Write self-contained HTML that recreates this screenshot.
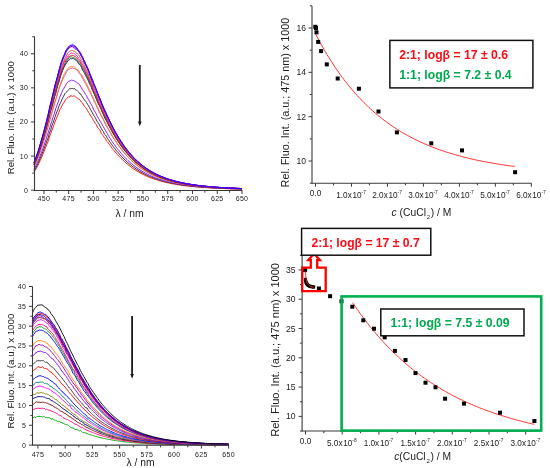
<!DOCTYPE html>
<html><head><meta charset="utf-8"><title>Fluorescence titration</title>
<style>
html,body{margin:0;padding:0;background:#fff;}
body{width:550px;height:468px;overflow:hidden;}
svg{display:block;}
svg text{font-family:"Liberation Sans",Arial,sans-serif;fill:#1c1c1c;}
</style></head>
<body>
<svg width="550" height="468" viewBox="0 0 550 468">
<rect width="550" height="468" fill="#fff"/>
<g>
<polyline points="34.0,172.1 35.0,170.5 36.0,168.8 37.0,167.0 38.0,165.1 39.0,163.1 39.9,161.0 40.9,158.9 41.9,156.6 42.9,154.3 43.9,151.8 44.9,149.4 45.9,146.8 46.9,144.2 47.9,141.9 48.9,139.0 49.8,136.0 50.8,133.5 51.8,130.4 52.8,128.1 53.8,125.3 54.8,122.2 55.8,119.9 56.8,117.6 57.8,115.1 58.8,112.5 59.8,109.8 60.7,108.3 61.7,106.3 62.7,104.1 63.7,102.9 64.7,101.2 65.7,99.5 66.7,98.4 67.7,97.6 68.7,96.6 69.7,97.1 70.6,95.6 71.6,96.0 72.6,96.3 73.6,95.9 74.6,96.1 75.6,97.0 76.6,97.8 77.6,98.2 78.6,99.1 79.6,99.6 80.6,100.9 81.5,102.2 82.5,103.1 83.5,104.8 84.5,106.4 85.5,107.4 86.5,108.8 87.5,110.6 88.5,112.3 89.5,113.5 90.5,116.0 91.4,116.6 92.4,118.3 93.4,120.5 94.4,121.7 95.4,123.6 96.4,124.7 97.4,127.2 98.4,128.4 99.4,129.5 100.4,131.0 101.4,133.5 102.3,134.6 103.3,135.8 104.3,137.6 105.3,138.4 106.3,140.7 107.3,141.6 108.3,143.1 109.3,144.5 110.3,145.8 111.3,147.1 112.2,148.4 113.2,149.6 114.2,150.8 115.2,152.0 116.2,153.2 117.2,154.3 118.2,155.4 119.2,156.4 120.2,157.5 121.2,158.5 122.2,159.4 123.1,160.4 124.1,161.3 125.1,162.2 126.1,163.1 127.1,163.9 128.1,164.7 129.1,165.5 130.1,166.3 131.1,167.0 132.1,167.8 133.1,168.5 134.0,169.1 135.0,169.8 136.0,170.4 137.0,171.0 138.0,171.6 139.0,172.2 140.0,172.8 141.0,173.3 142.0,173.8 143.0,174.3 143.9,174.8 144.9,175.3 145.9,175.8 146.9,176.2 147.9,176.6 148.9,177.1 149.9,177.5 150.9,177.8 151.9,178.2 152.9,178.6 153.9,178.9 154.8,179.3 155.8,179.6 156.8,179.9 157.8,180.2 158.8,180.5 159.8,180.8 160.8,181.1 161.8,181.4 162.8,181.6 163.8,181.9 164.7,182.1 165.7,182.4 166.7,182.6 167.7,182.8 168.7,183.0 169.7,183.2 170.7,183.4 171.7,183.6 172.7,183.8 173.7,184.0 174.7,184.2 175.6,184.3 176.6,184.5 177.6,184.7 178.6,184.8 179.6,185.0 180.6,185.1 181.6,185.3 182.6,185.4 183.6,185.5 184.6,185.7 185.5,185.8 186.5,185.9 187.5,186.0 188.5,186.1 189.5,186.2 190.5,186.3 191.5,186.4 192.5,186.5 193.5,186.6 194.5,186.7 195.5,186.8 196.4,186.9 197.4,187.0 198.4,187.1 199.4,187.2 200.4,187.2 201.4,187.3 202.4,187.4 203.4,187.5 204.4,187.5 205.4,187.6 206.3,187.7 207.3,187.7 208.3,187.8 209.3,187.8 210.3,187.9 211.3,188.0 212.3,188.0 213.3,188.1 214.3,188.1 215.3,188.2 216.3,188.2 217.2,188.3 218.2,188.3 219.2,188.4 220.2,188.4 221.2,188.4 222.2,188.5 223.2,188.5 224.2,188.6 225.2,188.6 226.2,188.6 227.1,188.7 228.1,188.7 229.1,188.7 230.1,188.8 231.1,188.8 232.1,188.8 233.1,188.9 234.1,188.9 235.1,188.9 236.1,189.0 237.1,189.0 238.0,189.0 239.0,189.0 240.0,189.1 241.0,189.1 242.0,189.1" fill="none" stroke="#ff0000" stroke-width="0.9" stroke-linejoin="round"/>
<polyline points="34.0,170.8 35.0,169.0 36.0,167.2 37.0,165.3 38.0,163.2 39.0,161.1 39.9,158.8 40.9,156.5 41.9,154.1 42.9,151.5 43.9,148.9 44.9,146.3 45.9,143.5 46.9,140.7 47.9,138.5 48.9,134.9 49.8,132.1 50.8,129.5 51.8,126.0 52.8,123.4 53.8,120.9 54.8,117.6 55.8,114.8 56.8,111.9 57.8,109.7 58.8,106.6 59.8,104.1 60.7,102.4 61.7,100.1 62.7,97.9 63.7,96.2 64.7,93.8 65.7,92.8 66.7,91.9 67.7,90.8 68.7,89.7 69.7,88.4 70.6,88.8 71.6,88.5 72.6,88.5 73.6,88.8 74.6,88.5 75.6,89.9 76.6,90.2 77.6,91.2 78.6,92.0 79.6,93.6 80.6,93.8 81.5,95.6 82.5,96.9 83.5,98.6 84.5,100.0 85.5,101.1 86.5,102.5 87.5,104.2 88.5,105.7 89.5,107.6 90.5,109.5 91.4,111.0 92.4,112.8 93.4,114.8 94.4,116.3 95.4,117.8 96.4,119.9 97.4,121.8 98.4,123.2 99.4,124.6 100.4,126.9 101.4,128.6 102.3,130.2 103.3,131.4 104.3,134.0 105.3,134.9 106.3,136.2 107.3,138.3 108.3,139.6 109.3,141.0 110.3,142.4 111.3,143.8 112.2,145.2 113.2,146.5 114.2,147.8 115.2,149.1 116.2,150.4 117.2,151.6 118.2,152.7 119.2,153.9 120.2,155.0 121.2,156.1 122.2,157.1 123.1,158.1 124.1,159.1 125.1,160.1 126.1,161.0 127.1,161.9 128.1,162.8 129.1,163.7 130.1,164.5 131.1,165.3 132.1,166.1 133.1,166.8 134.0,167.5 135.0,168.2 136.0,168.9 137.0,169.6 138.0,170.2 139.0,170.9 140.0,171.5 141.0,172.0 142.0,172.6 143.0,173.1 143.9,173.7 144.9,174.2 145.9,174.7 146.9,175.2 147.9,175.6 148.9,176.1 149.9,176.5 150.9,176.9 151.9,177.3 152.9,177.7 153.9,178.1 154.8,178.4 155.8,178.8 156.8,179.1 157.8,179.5 158.8,179.8 159.8,180.1 160.8,180.4 161.8,180.7 162.8,181.0 163.8,181.3 164.7,181.5 165.7,181.8 166.7,182.0 167.7,182.3 168.7,182.5 169.7,182.7 170.7,182.9 171.7,183.1 172.7,183.3 173.7,183.5 174.7,183.7 175.6,183.9 176.6,184.1 177.6,184.3 178.6,184.4 179.6,184.6 180.6,184.7 181.6,184.9 182.6,185.0 183.6,185.2 184.6,185.3 185.5,185.4 186.5,185.6 187.5,185.7 188.5,185.8 189.5,185.9 190.5,186.1 191.5,186.2 192.5,186.3 193.5,186.4 194.5,186.5 195.5,186.6 196.4,186.7 197.4,186.8 198.4,186.8 199.4,186.9 200.4,187.0 201.4,187.1 202.4,187.2 203.4,187.3 204.4,187.3 205.4,187.4 206.3,187.5 207.3,187.5 208.3,187.6 209.3,187.7 210.3,187.7 211.3,187.8 212.3,187.9 213.3,187.9 214.3,188.0 215.3,188.0 216.3,188.1 217.2,188.1 218.2,188.2 219.2,188.2 220.2,188.3 221.2,188.3 222.2,188.4 223.2,188.4 224.2,188.4 225.2,188.5 226.2,188.5 227.1,188.6 228.1,188.6 229.1,188.6 230.1,188.7 231.1,188.7 232.1,188.7 233.1,188.8 234.1,188.8 235.1,188.8 236.1,188.9 237.1,188.9 238.0,188.9 239.0,188.9 240.0,189.0 241.0,189.0 242.0,189.0" fill="none" stroke="#202020" stroke-width="0.9" stroke-linejoin="round"/>
<polyline points="34.0,169.2 35.0,167.3 36.0,165.3 37.0,163.2 38.0,161.0 39.0,158.7 39.9,156.3 40.9,153.8 41.9,151.1 42.9,148.4 43.9,145.6 44.9,142.7 45.9,139.8 46.9,136.7 47.9,133.6 48.9,130.4 49.8,127.7 50.8,124.0 51.8,121.6 52.8,117.7 53.8,115.2 54.8,112.1 55.8,108.4 56.8,105.8 57.8,103.1 58.8,100.2 59.8,97.3 60.7,94.9 61.7,92.6 62.7,90.1 63.7,88.6 64.7,86.8 65.7,85.2 66.7,83.3 67.7,82.2 68.7,81.2 69.7,81.0 70.6,80.6 71.6,80.1 72.6,80.5 73.6,80.4 74.6,80.9 75.6,81.9 76.6,82.4 77.6,83.3 78.6,83.7 79.6,84.6 80.6,86.6 81.5,87.9 82.5,90.1 83.5,90.8 84.5,92.5 85.5,94.4 86.5,95.6 87.5,98.0 88.5,99.4 89.5,101.1 90.5,103.4 91.4,104.6 92.4,106.4 93.4,109.1 94.4,111.0 95.4,112.2 96.4,114.3 97.4,116.6 98.4,118.2 99.4,119.9 100.4,121.8 101.4,123.3 102.3,125.2 103.3,126.6 104.3,128.4 105.3,130.3 106.3,131.9 107.3,133.5 108.3,135.5 109.3,137.1 110.3,138.6 111.3,140.1 112.2,141.6 113.2,143.0 114.2,144.4 115.2,145.8 116.2,147.1 117.2,148.4 118.2,149.7 119.2,150.9 120.2,152.1 121.2,153.3 122.2,154.4 123.1,155.6 124.1,156.6 125.1,157.7 126.1,158.7 127.1,159.6 128.1,160.6 129.1,161.5 130.1,162.4 131.1,163.3 132.1,164.1 133.1,164.9 134.0,165.7 135.0,166.5 136.0,167.2 137.0,167.9 138.0,168.6 139.0,169.3 140.0,169.9 141.0,170.6 142.0,171.2 143.0,171.8 143.9,172.3 144.9,172.9 145.9,173.4 146.9,173.9 147.9,174.4 148.9,174.9 149.9,175.4 150.9,175.8 151.9,176.3 152.9,176.7 153.9,177.1 154.8,177.5 155.8,177.9 156.8,178.3 157.8,178.6 158.8,179.0 159.8,179.3 160.8,179.6 161.8,179.9 162.8,180.2 163.8,180.5 164.7,180.8 165.7,181.1 166.7,181.4 167.7,181.6 168.7,181.9 169.7,182.1 170.7,182.3 171.7,182.6 172.7,182.8 173.7,183.0 174.7,183.2 175.6,183.4 176.6,183.6 177.6,183.8 178.6,184.0 179.6,184.1 180.6,184.3 181.6,184.5 182.6,184.6 183.6,184.8 184.6,184.9 185.5,185.1 186.5,185.2 187.5,185.3 188.5,185.5 189.5,185.6 190.5,185.7 191.5,185.8 192.5,186.0 193.5,186.1 194.5,186.2 195.5,186.3 196.4,186.4 197.4,186.5 198.4,186.6 199.4,186.7 200.4,186.8 201.4,186.9 202.4,186.9 203.4,187.0 204.4,187.1 205.4,187.2 206.3,187.3 207.3,187.3 208.3,187.4 209.3,187.5 210.3,187.5 211.3,187.6 212.3,187.7 213.3,187.7 214.3,187.8 215.3,187.8 216.3,187.9 217.2,188.0 218.2,188.0 219.2,188.1 220.2,188.1 221.2,188.2 222.2,188.2 223.2,188.3 224.2,188.3 225.2,188.3 226.2,188.4 227.1,188.4 228.1,188.5 229.1,188.5 230.1,188.5 231.1,188.6 232.1,188.6 233.1,188.7 234.1,188.7 235.1,188.7 236.1,188.8 237.1,188.8 238.0,188.8 239.0,188.8 240.0,188.9 241.0,188.9 242.0,188.9" fill="none" stroke="#8000ff" stroke-width="0.9" stroke-linejoin="round"/>
<polyline points="34.0,166.9 35.0,164.8 36.0,162.6 37.0,160.2 38.0,157.8 39.0,155.2 39.9,152.5 40.9,149.7 41.9,146.8 42.9,143.8 43.9,140.6 44.9,137.4 45.9,134.1 46.9,130.8 47.9,127.5 48.9,123.7 49.8,120.8 50.8,117.2 51.8,113.4 52.8,110.1 53.8,106.5 54.8,102.9 55.8,99.6 56.8,96.3 57.8,92.5 58.8,89.7 59.8,86.7 60.7,84.3 61.7,81.8 62.7,79.7 63.7,77.2 64.7,75.7 65.7,73.5 66.7,71.5 67.7,70.0 68.7,69.2 69.7,69.0 70.6,68.1 71.6,68.3 72.6,67.9 73.6,68.5 74.6,68.6 75.6,68.7 76.6,70.0 77.6,70.6 78.6,72.4 79.6,73.8 80.6,74.6 81.5,76.0 82.5,78.3 83.5,79.8 84.5,82.0 85.5,83.4 86.5,85.0 87.5,87.2 88.5,89.4 89.5,91.6 90.5,93.1 91.4,95.1 92.4,97.2 93.4,99.5 94.4,102.0 95.4,103.2 96.4,105.9 97.4,108.0 98.4,109.8 99.4,112.7 100.4,114.1 101.4,116.1 102.3,118.0 103.3,119.6 104.3,121.8 105.3,124.4 106.3,125.8 107.3,127.5 108.3,129.4 109.3,131.1 110.3,132.8 111.3,134.5 112.2,136.2 113.2,137.8 114.2,139.3 115.2,140.8 116.2,142.3 117.2,143.8 118.2,145.2 119.2,146.6 120.2,147.9 121.2,149.2 122.2,150.5 123.1,151.7 124.1,152.9 125.1,154.0 126.1,155.1 127.1,156.2 128.1,157.3 129.1,158.3 130.1,159.3 131.1,160.3 132.1,161.2 133.1,162.1 134.0,163.0 135.0,163.8 136.0,164.6 137.0,165.4 138.0,166.2 139.0,167.0 140.0,167.7 141.0,168.4 142.0,169.1 143.0,169.7 143.9,170.3 144.9,171.0 145.9,171.5 146.9,172.1 147.9,172.7 148.9,173.2 149.9,173.7 150.9,174.2 151.9,174.7 152.9,175.2 153.9,175.6 154.8,176.1 155.8,176.5 156.8,176.9 157.8,177.3 158.8,177.7 159.8,178.1 160.8,178.4 161.8,178.8 162.8,179.1 163.8,179.4 164.7,179.8 165.7,180.1 166.7,180.4 167.7,180.7 168.7,180.9 169.7,181.2 170.7,181.5 171.7,181.7 172.7,181.9 173.7,182.2 174.7,182.4 175.6,182.6 176.6,182.8 177.6,183.1 178.6,183.3 179.6,183.4 180.6,183.6 181.6,183.8 182.6,184.0 183.6,184.2 184.6,184.3 185.5,184.5 186.5,184.6 187.5,184.8 188.5,184.9 189.5,185.1 190.5,185.2 191.5,185.4 192.5,185.5 193.5,185.6 194.5,185.7 195.5,185.8 196.4,186.0 197.4,186.1 198.4,186.2 199.4,186.3 200.4,186.4 201.4,186.5 202.4,186.6 203.4,186.7 204.4,186.8 205.4,186.8 206.3,186.9 207.3,187.0 208.3,187.1 209.3,187.2 210.3,187.2 211.3,187.3 212.3,187.4 213.3,187.4 214.3,187.5 215.3,187.6 216.3,187.6 217.2,187.7 218.2,187.8 219.2,187.8 220.2,187.9 221.2,187.9 222.2,188.0 223.2,188.0 224.2,188.1 225.2,188.1 226.2,188.2 227.1,188.2 228.1,188.3 229.1,188.3 230.1,188.4 231.1,188.4 232.1,188.4 233.1,188.5 234.1,188.5 235.1,188.6 236.1,188.6 237.1,188.6 238.0,188.7 239.0,188.7 240.0,188.7 241.0,188.8 242.0,188.8" fill="none" stroke="#c040c0" stroke-width="0.9" stroke-linejoin="round"/>
<polyline points="34.0,166.5 35.0,164.4 36.0,162.2 37.0,159.8 38.0,157.3 39.0,154.7 39.9,152.0 40.9,149.1 41.9,146.2 42.9,143.1 43.9,139.9 44.9,136.7 45.9,133.3 46.9,129.9 47.9,126.6 48.9,122.9 49.8,119.3 50.8,116.1 51.8,112.2 52.8,108.8 53.8,104.7 54.8,101.5 55.8,98.7 56.8,95.6 57.8,91.7 58.8,88.2 59.8,85.6 60.7,82.5 61.7,80.3 62.7,78.1 63.7,75.2 64.7,73.4 65.7,71.5 66.7,70.5 67.7,68.8 68.7,68.0 69.7,66.8 70.6,66.8 71.6,66.6 72.6,66.6 73.6,66.3 74.6,67.2 75.6,68.1 76.6,69.0 77.6,70.0 78.6,70.3 79.6,72.6 80.6,73.7 81.5,74.7 82.5,76.2 83.5,78.3 84.5,79.8 85.5,81.6 86.5,83.5 87.5,85.7 88.5,87.3 89.5,89.8 90.5,91.4 91.4,94.3 92.4,95.8 93.4,98.6 94.4,100.9 95.4,102.4 96.4,104.9 97.4,106.6 98.4,109.2 99.4,110.5 100.4,113.0 101.4,115.4 102.3,117.0 103.3,118.8 104.3,121.3 105.3,122.8 106.3,124.2 107.3,126.4 108.3,128.5 109.3,130.3 110.3,132.0 111.3,133.7 112.2,135.4 113.2,137.0 114.2,138.6 115.2,140.2 116.2,141.7 117.2,143.1 118.2,144.6 119.2,145.9 120.2,147.3 121.2,148.6 122.2,149.9 123.1,151.1 124.1,152.3 125.1,153.5 126.1,154.7 127.1,155.8 128.1,156.8 129.1,157.9 130.1,158.9 131.1,159.8 132.1,160.8 133.1,161.7 134.0,162.6 135.0,163.5 136.0,164.3 137.0,165.1 138.0,165.9 139.0,166.6 140.0,167.4 141.0,168.1 142.0,168.8 143.0,169.4 143.9,170.1 144.9,170.7 145.9,171.3 146.9,171.9 147.9,172.4 148.9,173.0 149.9,173.5 150.9,174.0 151.9,174.5 152.9,175.0 153.9,175.4 154.8,175.9 155.8,176.3 156.8,176.7 157.8,177.1 158.8,177.5 159.8,177.9 160.8,178.3 161.8,178.6 162.8,179.0 163.8,179.3 164.7,179.6 165.7,179.9 166.7,180.2 167.7,180.5 168.7,180.8 169.7,181.1 170.7,181.3 171.7,181.6 172.7,181.8 173.7,182.1 174.7,182.3 175.6,182.5 176.6,182.7 177.6,183.0 178.6,183.2 179.6,183.4 180.6,183.5 181.6,183.7 182.6,183.9 183.6,184.1 184.6,184.2 185.5,184.4 186.5,184.6 187.5,184.7 188.5,184.9 189.5,185.0 190.5,185.1 191.5,185.3 192.5,185.4 193.5,185.5 194.5,185.7 195.5,185.8 196.4,185.9 197.4,186.0 198.4,186.1 199.4,186.2 200.4,186.3 201.4,186.4 202.4,186.5 203.4,186.6 204.4,186.7 205.4,186.8 206.3,186.9 207.3,187.0 208.3,187.0 209.3,187.1 210.3,187.2 211.3,187.3 212.3,187.3 213.3,187.4 214.3,187.5 215.3,187.5 216.3,187.6 217.2,187.7 218.2,187.7 219.2,187.8 220.2,187.8 221.2,187.9 222.2,188.0 223.2,188.0 224.2,188.1 225.2,188.1 226.2,188.2 227.1,188.2 228.1,188.2 229.1,188.3 230.1,188.3 231.1,188.4 232.1,188.4 233.1,188.5 234.1,188.5 235.1,188.5 236.1,188.6 237.1,188.6 238.0,188.6 239.0,188.7 240.0,188.7 241.0,188.7 242.0,188.8" fill="none" stroke="#ff8000" stroke-width="0.9" stroke-linejoin="round"/>
<polyline points="34.0,165.0 35.0,162.8 36.0,160.4 37.0,157.9 38.0,155.2 39.0,152.5 39.9,149.6 40.9,146.5 41.9,143.4 42.9,140.1 43.9,136.8 44.9,133.3 45.9,129.7 46.9,126.1 47.9,122.2 48.9,118.3 49.8,114.5 50.8,110.8 51.8,107.8 52.8,103.7 53.8,99.9 54.8,96.1 55.8,93.1 56.8,88.9 57.8,85.4 58.8,82.4 59.8,78.9 60.7,75.6 61.7,73.2 62.7,70.3 63.7,67.9 64.7,65.9 65.7,64.0 66.7,62.6 67.7,60.8 68.7,60.2 69.7,59.5 70.6,58.5 71.6,58.8 72.6,58.5 73.6,58.6 74.6,59.4 75.6,60.0 76.6,60.7 77.6,61.8 78.6,63.7 79.6,64.9 80.6,65.6 81.5,67.5 82.5,70.0 83.5,71.6 84.5,73.0 85.5,75.3 86.5,76.9 87.5,79.1 88.5,81.1 89.5,83.8 90.5,85.5 91.4,87.3 92.4,90.4 93.4,92.0 94.4,94.4 95.4,96.8 96.4,99.3 97.4,101.8 98.4,104.0 99.4,105.7 100.4,107.8 101.4,109.9 102.3,112.2 103.3,114.3 104.3,116.8 105.3,119.1 106.3,120.6 107.3,122.5 108.3,124.6 109.3,126.5 110.3,128.3 111.3,130.2 112.2,131.9 113.2,133.7 114.2,135.3 115.2,137.0 116.2,138.6 117.2,140.1 118.2,141.7 119.2,143.1 120.2,144.6 121.2,146.0 122.2,147.3 123.1,148.7 124.1,149.9 125.1,151.2 126.1,152.4 127.1,153.6 128.1,154.7 129.1,155.8 130.1,156.9 131.1,157.9 132.1,158.9 133.1,159.9 134.0,160.8 135.0,161.8 136.0,162.6 137.0,163.5 138.0,164.3 139.0,165.1 140.0,165.9 141.0,166.7 142.0,167.4 143.0,168.1 143.9,168.8 144.9,169.4 145.9,170.1 146.9,170.7 147.9,171.3 148.9,171.9 149.9,172.4 150.9,173.0 151.9,173.5 152.9,174.0 153.9,174.5 154.8,175.0 155.8,175.4 156.8,175.9 157.8,176.3 158.8,176.7 159.8,177.1 160.8,177.5 161.8,177.9 162.8,178.3 163.8,178.6 164.7,178.9 165.7,179.3 166.7,179.6 167.7,179.9 168.7,180.2 169.7,180.5 170.7,180.8 171.7,181.0 172.7,181.3 173.7,181.6 174.7,181.8 175.6,182.0 176.6,182.3 177.6,182.5 178.6,182.7 179.6,182.9 180.6,183.1 181.6,183.3 182.6,183.5 183.6,183.7 184.6,183.9 185.5,184.0 186.5,184.2 187.5,184.4 188.5,184.5 189.5,184.7 190.5,184.8 191.5,185.0 192.5,185.1 193.5,185.2 194.5,185.4 195.5,185.5 196.4,185.6 197.4,185.7 198.4,185.9 199.4,186.0 200.4,186.1 201.4,186.2 202.4,186.3 203.4,186.4 204.4,186.5 205.4,186.6 206.3,186.7 207.3,186.8 208.3,186.8 209.3,186.9 210.3,187.0 211.3,187.1 212.3,187.2 213.3,187.2 214.3,187.3 215.3,187.4 216.3,187.4 217.2,187.5 218.2,187.6 219.2,187.6 220.2,187.7 221.2,187.8 222.2,187.8 223.2,187.9 224.2,187.9 225.2,188.0 226.2,188.0 227.1,188.1 228.1,188.1 229.1,188.2 230.1,188.2 231.1,188.3 232.1,188.3 233.1,188.3 234.1,188.4 235.1,188.4 236.1,188.5 237.1,188.5 238.0,188.5 239.0,188.6 240.0,188.6 241.0,188.6 242.0,188.7" fill="none" stroke="#000080" stroke-width="0.9" stroke-linejoin="round"/>
<polyline points="34.0,164.8 35.0,162.5 36.0,160.1 37.0,157.6 38.0,154.9 39.0,152.1 39.9,149.1 40.9,146.1 41.9,142.9 42.9,139.6 43.9,136.2 44.9,132.7 45.9,129.1 46.9,125.4 47.9,121.7 48.9,117.7 49.8,113.9 50.8,109.7 51.8,106.0 52.8,103.1 53.8,98.5 54.8,95.4 55.8,91.8 56.8,87.6 57.8,84.6 58.8,81.1 59.8,77.5 60.7,75.0 61.7,72.2 62.7,69.2 63.7,66.5 64.7,64.6 65.7,63.3 66.7,61.4 67.7,59.8 68.7,58.1 69.7,57.6 70.6,57.1 71.6,56.8 72.6,57.3 73.6,57.4 74.6,57.9 75.6,59.0 76.6,59.6 77.6,60.5 78.6,62.2 79.6,63.0 80.6,64.5 81.5,66.0 82.5,68.3 83.5,69.9 84.5,71.4 85.5,73.6 86.5,76.1 87.5,77.9 88.5,79.7 89.5,82.4 90.5,84.5 91.4,86.1 92.4,89.1 93.4,91.4 94.4,94.0 95.4,96.2 96.4,97.8 97.4,100.6 98.4,103.2 99.4,105.3 100.4,107.3 101.4,109.2 102.3,111.9 103.3,113.6 104.3,116.0 105.3,117.8 106.3,119.8 107.3,121.8 108.3,123.9 109.3,125.8 110.3,127.7 111.3,129.5 112.2,131.3 113.2,133.1 114.2,134.8 115.2,136.4 116.2,138.0 117.2,139.6 118.2,141.2 119.2,142.7 120.2,144.1 121.2,145.5 122.2,146.9 123.1,148.2 124.1,149.5 125.1,150.8 126.1,152.0 127.1,153.2 128.1,154.3 129.1,155.5 130.1,156.5 131.1,157.6 132.1,158.6 133.1,159.6 134.0,160.5 135.0,161.5 136.0,162.4 137.0,163.2 138.0,164.1 139.0,164.9 140.0,165.7 141.0,166.4 142.0,167.2 143.0,167.9 143.9,168.6 144.9,169.2 145.9,169.9 146.9,170.5 147.9,171.1 148.9,171.7 149.9,172.3 150.9,172.8 151.9,173.3 152.9,173.8 153.9,174.3 154.8,174.8 155.8,175.3 156.8,175.7 157.8,176.2 158.8,176.6 159.8,177.0 160.8,177.4 161.8,177.8 162.8,178.1 163.8,178.5 164.7,178.8 165.7,179.2 166.7,179.5 167.7,179.8 168.7,180.1 169.7,180.4 170.7,180.7 171.7,180.9 172.7,181.2 173.7,181.5 174.7,181.7 175.6,182.0 176.6,182.2 177.6,182.4 178.6,182.6 179.6,182.8 180.6,183.0 181.6,183.2 182.6,183.4 183.6,183.6 184.6,183.8 185.5,184.0 186.5,184.1 187.5,184.3 188.5,184.5 189.5,184.6 190.5,184.8 191.5,184.9 192.5,185.1 193.5,185.2 194.5,185.3 195.5,185.5 196.4,185.6 197.4,185.7 198.4,185.8 199.4,185.9 200.4,186.0 201.4,186.1 202.4,186.2 203.4,186.3 204.4,186.4 205.4,186.5 206.3,186.6 207.3,186.7 208.3,186.8 209.3,186.9 210.3,187.0 211.3,187.1 212.3,187.1 213.3,187.2 214.3,187.3 215.3,187.3 216.3,187.4 217.2,187.5 218.2,187.5 219.2,187.6 220.2,187.7 221.2,187.7 222.2,187.8 223.2,187.8 224.2,187.9 225.2,188.0 226.2,188.0 227.1,188.1 228.1,188.1 229.1,188.2 230.1,188.2 231.1,188.2 232.1,188.3 233.1,188.3 234.1,188.4 235.1,188.4 236.1,188.5 237.1,188.5 238.0,188.5 239.0,188.6 240.0,188.6 241.0,188.6 242.0,188.7" fill="none" stroke="#008000" stroke-width="0.9" stroke-linejoin="round"/>
<polyline points="34.0,164.4 35.0,162.1 36.0,159.7 37.0,157.1 38.0,154.4 39.0,151.6 39.9,148.6 40.9,145.5 41.9,142.3 42.9,139.0 43.9,135.5 44.9,132.0 45.9,128.3 46.9,124.6 47.9,120.9 48.9,116.4 49.8,113.2 50.8,109.1 51.8,105.6 52.8,101.5 53.8,97.6 54.8,93.8 55.8,89.9 56.8,86.7 57.8,83.3 58.8,79.3 59.8,76.5 60.7,73.5 61.7,70.1 62.7,67.6 63.7,66.2 64.7,63.3 65.7,61.0 66.7,59.3 67.7,58.3 68.7,56.5 69.7,56.4 70.6,55.8 71.6,55.4 72.6,55.5 73.6,55.6 74.6,56.0 75.6,57.1 76.6,57.5 77.6,59.2 78.6,60.3 79.6,61.1 80.6,63.1 81.5,64.4 82.5,66.6 83.5,68.4 84.5,70.3 85.5,72.3 86.5,74.5 87.5,76.5 88.5,78.5 89.5,80.6 90.5,83.2 91.4,85.3 92.4,87.6 93.4,90.5 94.4,93.0 95.4,94.3 96.4,96.7 97.4,99.4 98.4,101.6 99.4,104.3 100.4,106.6 101.4,108.3 102.3,111.1 103.3,112.5 104.3,115.1 105.3,116.9 106.3,118.5 107.3,120.5 108.3,123.1 109.3,125.0 110.3,126.9 111.3,128.8 112.2,130.6 113.2,132.3 114.2,134.1 115.2,135.7 116.2,137.4 117.2,139.0 118.2,140.5 119.2,142.0 120.2,143.5 121.2,145.0 122.2,146.3 123.1,147.7 124.1,149.0 125.1,150.3 126.1,151.5 127.1,152.7 128.1,153.9 129.1,155.0 130.1,156.1 131.1,157.2 132.1,158.2 133.1,159.2 134.0,160.2 135.0,161.1 136.0,162.0 137.0,162.9 138.0,163.7 139.0,164.6 140.0,165.4 141.0,166.1 142.0,166.9 143.0,167.6 143.9,168.3 144.9,169.0 145.9,169.6 146.9,170.3 147.9,170.9 148.9,171.5 149.9,172.0 150.9,172.6 151.9,173.1 152.9,173.6 153.9,174.1 154.8,174.6 155.8,175.1 156.8,175.5 157.8,176.0 158.8,176.4 159.8,176.8 160.8,177.2 161.8,177.6 162.8,178.0 163.8,178.3 164.7,178.7 165.7,179.0 166.7,179.3 167.7,179.7 168.7,180.0 169.7,180.3 170.7,180.6 171.7,180.8 172.7,181.1 173.7,181.4 174.7,181.6 175.6,181.9 176.6,182.1 177.6,182.3 178.6,182.5 179.6,182.7 180.6,183.0 181.6,183.2 182.6,183.4 183.6,183.5 184.6,183.7 185.5,183.9 186.5,184.1 187.5,184.2 188.5,184.4 189.5,184.6 190.5,184.7 191.5,184.9 192.5,185.0 193.5,185.1 194.5,185.3 195.5,185.4 196.4,185.5 197.4,185.6 198.4,185.8 199.4,185.9 200.4,186.0 201.4,186.1 202.4,186.2 203.4,186.3 204.4,186.4 205.4,186.5 206.3,186.6 207.3,186.7 208.3,186.8 209.3,186.8 210.3,186.9 211.3,187.0 212.3,187.1 213.3,187.2 214.3,187.2 215.3,187.3 216.3,187.4 217.2,187.4 218.2,187.5 219.2,187.6 220.2,187.6 221.2,187.7 222.2,187.8 223.2,187.8 224.2,187.9 225.2,187.9 226.2,188.0 227.1,188.0 228.1,188.1 229.1,188.1 230.1,188.2 231.1,188.2 232.1,188.3 233.1,188.3 234.1,188.3 235.1,188.4 236.1,188.4 237.1,188.5 238.0,188.5 239.0,188.5 240.0,188.6 241.0,188.6 242.0,188.6" fill="none" stroke="#c00040" stroke-width="0.9" stroke-linejoin="round"/>
<polyline points="34.0,164.0 35.0,161.6 36.0,159.2 37.0,156.5 38.0,153.8 39.0,150.9 39.9,147.9 40.9,144.7 41.9,141.4 42.9,138.0 43.9,134.5 44.9,130.9 45.9,127.2 46.9,123.5 47.9,119.9 48.9,115.6 49.8,111.3 50.8,108.1 51.8,103.8 52.8,99.7 53.8,96.4 54.8,92.2 55.8,88.9 56.8,84.9 57.8,81.5 58.8,77.9 59.8,74.5 60.7,71.3 61.7,68.4 62.7,66.4 63.7,62.7 64.7,61.0 65.7,59.3 66.7,57.4 67.7,55.7 68.7,55.0 69.7,54.0 70.6,53.4 71.6,52.9 72.6,53.4 73.6,53.3 74.6,53.9 75.6,54.7 76.6,55.2 77.6,56.7 78.6,58.3 79.6,59.2 80.6,60.8 81.5,62.6 82.5,64.3 83.5,65.5 84.5,68.1 85.5,70.1 86.5,72.4 87.5,74.1 88.5,76.8 89.5,79.3 90.5,81.7 91.4,83.5 92.4,85.8 93.4,88.9 94.4,91.0 95.4,92.9 96.4,95.2 97.4,98.2 98.4,100.3 99.4,102.2 100.4,104.9 101.4,107.1 102.3,109.4 103.3,111.8 104.3,113.6 105.3,115.6 106.3,118.2 107.3,119.8 108.3,121.9 109.3,123.9 110.3,125.8 111.3,127.7 112.2,129.5 113.2,131.3 114.2,133.1 115.2,134.8 116.2,136.4 117.2,138.1 118.2,139.7 119.2,141.2 120.2,142.7 121.2,144.2 122.2,145.6 123.1,146.9 124.1,148.3 125.1,149.6 126.1,150.8 127.1,152.1 128.1,153.2 129.1,154.4 130.1,155.5 131.1,156.6 132.1,157.6 133.1,158.7 134.0,159.6 135.0,160.6 136.0,161.5 137.0,162.4 138.0,163.3 139.0,164.1 140.0,164.9 141.0,165.7 142.0,166.5 143.0,167.2 143.9,167.9 144.9,168.6 145.9,169.3 146.9,169.9 147.9,170.5 148.9,171.1 149.9,171.7 150.9,172.3 151.9,172.8 152.9,173.3 153.9,173.9 154.8,174.3 155.8,174.8 156.8,175.3 157.8,175.7 158.8,176.2 159.8,176.6 160.8,177.0 161.8,177.4 162.8,177.8 163.8,178.1 164.7,178.5 165.7,178.8 166.7,179.2 167.7,179.5 168.7,179.8 169.7,180.1 170.7,180.4 171.7,180.7 172.7,180.9 173.7,181.2 174.7,181.5 175.6,181.7 176.6,181.9 177.6,182.2 178.6,182.4 179.6,182.6 180.6,182.8 181.6,183.0 182.6,183.2 183.6,183.4 184.6,183.6 185.5,183.8 186.5,184.0 187.5,184.1 188.5,184.3 189.5,184.5 190.5,184.6 191.5,184.8 192.5,184.9 193.5,185.0 194.5,185.2 195.5,185.3 196.4,185.4 197.4,185.6 198.4,185.7 199.4,185.8 200.4,185.9 201.4,186.0 202.4,186.1 203.4,186.2 204.4,186.3 205.4,186.4 206.3,186.5 207.3,186.6 208.3,186.7 209.3,186.8 210.3,186.9 211.3,187.0 212.3,187.0 213.3,187.1 214.3,187.2 215.3,187.3 216.3,187.3 217.2,187.4 218.2,187.5 219.2,187.5 220.2,187.6 221.2,187.7 222.2,187.7 223.2,187.8 224.2,187.8 225.2,187.9 226.2,187.9 227.1,188.0 228.1,188.0 229.1,188.1 230.1,188.1 231.1,188.2 232.1,188.2 233.1,188.3 234.1,188.3 235.1,188.4 236.1,188.4 237.1,188.4 238.0,188.5 239.0,188.5 240.0,188.5 241.0,188.6 242.0,188.6" fill="none" stroke="#ff0080" stroke-width="0.9" stroke-linejoin="round"/>
<polyline points="34.0,163.5 35.0,161.1 36.0,158.5 37.0,155.9 38.0,153.1 39.0,150.1 39.9,147.0 40.9,143.8 41.9,140.5 42.9,137.0 43.9,133.4 44.9,129.8 45.9,126.0 46.9,122.1 47.9,118.5 48.9,114.6 49.8,110.2 50.8,106.6 51.8,102.7 52.8,98.4 53.8,94.5 54.8,90.0 55.8,86.8 56.8,82.1 57.8,79.2 58.8,75.4 59.8,71.9 60.7,68.8 61.7,65.7 62.7,63.5 63.7,61.3 64.7,58.4 65.7,56.9 66.7,54.8 67.7,52.9 68.7,52.0 69.7,51.3 70.6,50.9 71.6,50.5 72.6,50.5 73.6,51.2 74.6,51.2 75.6,52.3 76.6,52.9 77.6,54.2 78.6,55.0 79.6,56.5 80.6,58.3 81.5,60.1 82.5,61.7 83.5,63.3 84.5,65.4 85.5,67.8 86.5,69.9 87.5,71.8 88.5,75.0 89.5,76.7 90.5,79.5 91.4,81.2 92.4,84.1 93.4,86.4 94.4,89.1 95.4,91.2 96.4,93.4 97.4,95.5 98.4,98.7 99.4,100.9 100.4,101.8 101.4,105.1 102.3,107.6 103.3,109.7 104.3,112.9 105.3,113.8 106.3,116.3 107.3,118.9 108.3,120.5 109.3,122.5 110.3,124.5 111.3,126.4 112.2,128.3 113.2,130.1 114.2,131.9 115.2,133.7 116.2,135.4 117.2,137.0 118.2,138.6 119.2,140.2 120.2,141.7 121.2,143.2 122.2,144.7 123.1,146.1 124.1,147.4 125.1,148.8 126.1,150.1 127.1,151.3 128.1,152.5 129.1,153.7 130.1,154.8 131.1,155.9 132.1,157.0 133.1,158.0 134.0,159.0 135.0,160.0 136.0,160.9 137.0,161.8 138.0,162.7 139.0,163.6 140.0,164.4 141.0,165.2 142.0,166.0 143.0,166.7 143.9,167.5 144.9,168.2 145.9,168.8 146.9,169.5 147.9,170.1 148.9,170.7 149.9,171.3 150.9,171.9 151.9,172.5 152.9,173.0 153.9,173.5 154.8,174.0 155.8,174.5 156.8,175.0 157.8,175.4 158.8,175.9 159.8,176.3 160.8,176.7 161.8,177.1 162.8,177.5 163.8,177.9 164.7,178.2 165.7,178.6 166.7,178.9 167.7,179.3 168.7,179.6 169.7,179.9 170.7,180.2 171.7,180.5 172.7,180.8 173.7,181.0 174.7,181.3 175.6,181.5 176.6,181.8 177.6,182.0 178.6,182.2 179.6,182.5 180.6,182.7 181.6,182.9 182.6,183.1 183.6,183.3 184.6,183.5 185.5,183.7 186.5,183.8 187.5,184.0 188.5,184.2 189.5,184.3 190.5,184.5 191.5,184.6 192.5,184.8 193.5,184.9 194.5,185.1 195.5,185.2 196.4,185.3 197.4,185.5 198.4,185.6 199.4,185.7 200.4,185.8 201.4,185.9 202.4,186.0 203.4,186.2 204.4,186.3 205.4,186.4 206.3,186.4 207.3,186.5 208.3,186.6 209.3,186.7 210.3,186.8 211.3,186.9 212.3,187.0 213.3,187.0 214.3,187.1 215.3,187.2 216.3,187.3 217.2,187.3 218.2,187.4 219.2,187.5 220.2,187.5 221.2,187.6 222.2,187.7 223.2,187.7 224.2,187.8 225.2,187.8 226.2,187.9 227.1,187.9 228.1,188.0 229.1,188.0 230.1,188.1 231.1,188.1 232.1,188.2 233.1,188.2 234.1,188.3 235.1,188.3 236.1,188.4 237.1,188.4 238.0,188.4 239.0,188.5 240.0,188.5 241.0,188.6 242.0,188.6" fill="none" stroke="#a0522d" stroke-width="0.9" stroke-linejoin="round"/>
<polyline points="34.0,162.8 35.0,160.4 36.0,157.8 37.0,155.0 38.0,152.2 39.0,149.1 39.9,146.0 40.9,142.7 41.9,139.3 42.9,135.7 43.9,132.0 44.9,128.3 45.9,124.4 46.9,120.5 47.9,116.3 48.9,112.3 49.8,107.4 50.8,104.0 51.8,100.1 52.8,95.6 53.8,92.1 54.8,87.6 55.8,83.5 56.8,80.1 57.8,76.3 58.8,72.9 59.8,69.1 60.7,66.1 61.7,62.3 62.7,59.8 63.7,57.5 64.7,55.5 65.7,52.4 66.7,50.8 67.7,49.6 68.7,48.5 69.7,47.6 70.6,47.3 71.6,46.3 72.6,46.9 73.6,47.7 74.6,48.0 75.6,49.4 76.6,49.3 77.6,50.4 78.6,51.4 79.6,52.8 80.6,55.3 81.5,56.7 82.5,58.3 83.5,60.4 84.5,62.8 85.5,64.6 86.5,66.9 87.5,68.9 88.5,71.7 89.5,74.1 90.5,76.6 91.4,79.0 92.4,81.6 93.4,83.9 94.4,86.1 95.4,88.6 96.4,90.8 97.4,93.3 98.4,95.9 99.4,98.9 100.4,100.7 101.4,102.9 102.3,106.0 103.3,108.2 104.3,110.4 105.3,112.7 106.3,114.6 107.3,117.0 108.3,118.8 109.3,120.9 110.3,122.9 111.3,124.9 112.2,126.8 113.2,128.7 114.2,130.5 115.2,132.3 116.2,134.0 117.2,135.7 118.2,137.4 119.2,139.0 120.2,140.6 121.2,142.1 122.2,143.6 123.1,145.0 124.1,146.4 125.1,147.8 126.1,149.1 127.1,150.4 128.1,151.6 129.1,152.8 130.1,154.0 131.1,155.1 132.1,156.2 133.1,157.2 134.0,158.3 135.0,159.3 136.0,160.2 137.0,161.2 138.0,162.1 139.0,162.9 140.0,163.8 141.0,164.6 142.0,165.4 143.0,166.2 143.9,166.9 144.9,167.6 145.9,168.3 146.9,169.0 147.9,169.6 148.9,170.3 149.9,170.9 150.9,171.5 151.9,172.0 152.9,172.6 153.9,173.1 154.8,173.6 155.8,174.1 156.8,174.6 157.8,175.1 158.8,175.5 159.8,176.0 160.8,176.4 161.8,176.8 162.8,177.2 163.8,177.6 164.7,178.0 165.7,178.3 166.7,178.7 167.7,179.0 168.7,179.3 169.7,179.6 170.7,179.9 171.7,180.2 172.7,180.5 173.7,180.8 174.7,181.1 175.6,181.3 176.6,181.6 177.6,181.8 178.6,182.1 179.6,182.3 180.6,182.5 181.6,182.7 182.6,182.9 183.6,183.1 184.6,183.3 185.5,183.5 186.5,183.7 187.5,183.9 188.5,184.0 189.5,184.2 190.5,184.4 191.5,184.5 192.5,184.7 193.5,184.8 194.5,185.0 195.5,185.1 196.4,185.2 197.4,185.4 198.4,185.5 199.4,185.6 200.4,185.7 201.4,185.8 202.4,185.9 203.4,186.1 204.4,186.2 205.4,186.3 206.3,186.4 207.3,186.5 208.3,186.5 209.3,186.6 210.3,186.7 211.3,186.8 212.3,186.9 213.3,187.0 214.3,187.1 215.3,187.1 216.3,187.2 217.2,187.3 218.2,187.3 219.2,187.4 220.2,187.5 221.2,187.5 222.2,187.6 223.2,187.7 224.2,187.7 225.2,187.8 226.2,187.8 227.1,187.9 228.1,187.9 229.1,188.0 230.1,188.0 231.1,188.1 232.1,188.1 233.1,188.2 234.1,188.2 235.1,188.3 236.1,188.3 237.1,188.4 238.0,188.4 239.0,188.4 240.0,188.5 241.0,188.5 242.0,188.5" fill="none" stroke="#8000ff" stroke-width="0.9" stroke-linejoin="round"/>
<polyline points="34.0,162.7 35.0,160.2 36.0,157.6 37.0,154.9 38.0,152.0 39.0,148.9 39.9,145.8 40.9,142.5 41.9,139.0 42.9,135.5 43.9,131.8 44.9,128.0 45.9,124.1 46.9,120.1 47.9,116.8 48.9,112.3 49.8,107.7 50.8,104.1 51.8,99.8 52.8,95.1 53.8,91.2 54.8,87.3 55.8,83.2 56.8,79.6 57.8,75.6 58.8,72.1 59.8,67.9 60.7,65.2 61.7,62.4 62.7,59.5 63.7,56.8 64.7,54.9 65.7,52.7 66.7,50.1 67.7,49.5 68.7,48.1 69.7,46.7 70.6,46.0 71.6,46.6 72.6,45.9 73.6,46.8 74.6,46.7 75.6,47.8 76.6,49.0 77.6,49.8 78.6,51.2 79.6,53.1 80.6,53.8 81.5,56.3 82.5,57.7 83.5,60.2 84.5,62.7 85.5,64.6 86.5,66.5 87.5,68.6 88.5,70.6 89.5,73.5 90.5,76.0 91.4,78.8 92.4,80.9 93.4,83.2 94.4,86.5 95.4,87.9 96.4,90.4 97.4,92.5 98.4,95.9 99.4,98.1 100.4,100.5 101.4,103.3 102.3,105.5 103.3,107.8 104.3,109.6 105.3,111.9 106.3,113.8 107.3,116.5 108.3,118.5 109.3,120.5 110.3,122.6 111.3,124.6 112.2,126.5 113.2,128.4 114.2,130.2 115.2,132.0 116.2,133.8 117.2,135.5 118.2,137.1 119.2,138.8 120.2,140.3 121.2,141.9 122.2,143.3 123.1,144.8 124.1,146.2 125.1,147.6 126.1,148.9 127.1,150.2 128.1,151.4 129.1,152.6 130.1,153.8 131.1,154.9 132.1,156.0 133.1,157.1 134.0,158.1 135.0,159.1 136.0,160.1 137.0,161.0 138.0,161.9 139.0,162.8 140.0,163.7 141.0,164.5 142.0,165.3 143.0,166.0 143.9,166.8 144.9,167.5 145.9,168.2 146.9,168.9 147.9,169.5 148.9,170.2 149.9,170.8 150.9,171.4 151.9,172.0 152.9,172.5 153.9,173.0 154.8,173.6 155.8,174.1 156.8,174.5 157.8,175.0 158.8,175.5 159.8,175.9 160.8,176.3 161.8,176.7 162.8,177.1 163.8,177.5 164.7,177.9 165.7,178.3 166.7,178.6 167.7,178.9 168.7,179.3 169.7,179.6 170.7,179.9 171.7,180.2 172.7,180.5 173.7,180.8 174.7,181.0 175.6,181.3 176.6,181.5 177.6,181.8 178.6,182.0 179.6,182.2 180.6,182.5 181.6,182.7 182.6,182.9 183.6,183.1 184.6,183.3 185.5,183.5 186.5,183.7 187.5,183.8 188.5,184.0 189.5,184.2 190.5,184.3 191.5,184.5 192.5,184.6 193.5,184.8 194.5,184.9 195.5,185.1 196.4,185.2 197.4,185.3 198.4,185.5 199.4,185.6 200.4,185.7 201.4,185.8 202.4,185.9 203.4,186.0 204.4,186.1 205.4,186.2 206.3,186.3 207.3,186.4 208.3,186.5 209.3,186.6 210.3,186.7 211.3,186.8 212.3,186.9 213.3,187.0 214.3,187.0 215.3,187.1 216.3,187.2 217.2,187.3 218.2,187.3 219.2,187.4 220.2,187.5 221.2,187.5 222.2,187.6 223.2,187.7 224.2,187.7 225.2,187.8 226.2,187.8 227.1,187.9 228.1,187.9 229.1,188.0 230.1,188.0 231.1,188.1 232.1,188.1 233.1,188.2 234.1,188.2 235.1,188.3 236.1,188.3 237.1,188.3 238.0,188.4 239.0,188.4 240.0,188.5 241.0,188.5 242.0,188.5" fill="none" stroke="#000080" stroke-width="0.9" stroke-linejoin="round"/>
<polyline points="34.0,162.5 35.0,160.1 36.0,157.5 37.0,154.7 38.0,151.8 39.0,148.8 39.9,145.6 40.9,142.2 41.9,138.8 42.9,135.2 43.9,131.5 44.9,127.7 45.9,123.8 46.9,119.8 47.9,115.3 48.9,111.9 49.8,107.5 50.8,102.9 51.8,99.2 52.8,94.7 53.8,90.6 54.8,86.2 55.8,82.5 56.8,79.4 57.8,75.1 58.8,71.4 59.8,67.8 60.7,64.6 61.7,61.1 62.7,58.5 63.7,56.6 64.7,54.0 65.7,52.4 66.7,49.4 67.7,48.5 68.7,47.3 69.7,46.9 70.6,46.0 71.6,45.5 72.6,45.8 73.6,46.1 74.6,46.7 75.6,46.7 76.6,48.4 77.6,49.9 78.6,50.9 79.6,52.3 80.6,53.9 81.5,55.7 82.5,57.8 83.5,59.5 84.5,61.4 85.5,64.2 86.5,65.3 87.5,67.7 88.5,71.2 89.5,73.1 90.5,75.1 91.4,77.5 92.4,79.8 93.4,83.4 94.4,85.7 95.4,88.0 96.4,90.2 97.4,93.2 98.4,95.1 99.4,97.6 100.4,99.9 101.4,102.9 102.3,104.8 103.3,107.2 104.3,109.6 105.3,111.3 106.3,114.0 107.3,115.6 108.3,118.1 109.3,120.2 110.3,122.3 111.3,124.2 112.2,126.2 113.2,128.1 114.2,129.9 115.2,131.7 116.2,133.5 117.2,135.2 118.2,136.9 119.2,138.5 120.2,140.1 121.2,141.6 122.2,143.1 123.1,144.6 124.1,146.0 125.1,147.4 126.1,148.7 127.1,150.0 128.1,151.2 129.1,152.4 130.1,153.6 131.1,154.7 132.1,155.9 133.1,156.9 134.0,158.0 135.0,159.0 136.0,159.9 137.0,160.9 138.0,161.8 139.0,162.7 140.0,163.5 141.0,164.4 142.0,165.2 143.0,165.9 143.9,166.7 144.9,167.4 145.9,168.1 146.9,168.8 147.9,169.4 148.9,170.1 149.9,170.7 150.9,171.3 151.9,171.9 152.9,172.4 153.9,173.0 154.8,173.5 155.8,174.0 156.8,174.5 157.8,174.9 158.8,175.4 159.8,175.8 160.8,176.3 161.8,176.7 162.8,177.1 163.8,177.5 164.7,177.8 165.7,178.2 166.7,178.6 167.7,178.9 168.7,179.2 169.7,179.5 170.7,179.8 171.7,180.1 172.7,180.4 173.7,180.7 174.7,181.0 175.6,181.2 176.6,181.5 177.6,181.7 178.6,182.0 179.6,182.2 180.6,182.4 181.6,182.6 182.6,182.8 183.6,183.1 184.6,183.2 185.5,183.4 186.5,183.6 187.5,183.8 188.5,184.0 189.5,184.1 190.5,184.3 191.5,184.5 192.5,184.6 193.5,184.8 194.5,184.9 195.5,185.0 196.4,185.2 197.4,185.3 198.4,185.4 199.4,185.6 200.4,185.7 201.4,185.8 202.4,185.9 203.4,186.0 204.4,186.1 205.4,186.2 206.3,186.3 207.3,186.4 208.3,186.5 209.3,186.6 210.3,186.7 211.3,186.8 212.3,186.9 213.3,186.9 214.3,187.0 215.3,187.1 216.3,187.2 217.2,187.2 218.2,187.3 219.2,187.4 220.2,187.5 221.2,187.5 222.2,187.6 223.2,187.6 224.2,187.7 225.2,187.8 226.2,187.8 227.1,187.9 228.1,187.9 229.1,188.0 230.1,188.0 231.1,188.1 232.1,188.1 233.1,188.2 234.1,188.2 235.1,188.3 236.1,188.3 237.1,188.3 238.0,188.4 239.0,188.4 240.0,188.5 241.0,188.5 242.0,188.5" fill="none" stroke="#ff00ff" stroke-width="0.9" stroke-linejoin="round"/>
<polyline points="34.0,162.4 35.0,159.9 36.0,157.3 37.0,154.5 38.0,151.6 39.0,148.6 39.9,145.4 40.9,142.0 41.9,138.5 42.9,134.9 43.9,131.2 44.9,127.4 45.9,123.5 46.9,119.5 47.9,115.3 48.9,111.0 49.8,106.1 50.8,102.9 51.8,98.8 52.8,94.4 53.8,90.2 54.8,85.9 55.8,82.1 56.8,78.6 57.8,75.3 58.8,70.8 59.8,67.7 60.7,63.7 61.7,61.5 62.7,58.1 63.7,55.8 64.7,53.5 65.7,50.6 66.7,49.2 67.7,47.8 68.7,46.3 69.7,45.9 70.6,45.2 71.6,45.1 72.6,44.3 73.6,45.2 74.6,45.6 75.6,46.2 76.6,47.6 77.6,48.8 78.6,50.6 79.6,51.4 80.6,53.1 81.5,55.1 82.5,56.4 83.5,59.4 84.5,60.8 85.5,63.5 86.5,65.7 87.5,67.7 88.5,69.6 89.5,72.8 90.5,75.2 91.4,77.7 92.4,79.2 93.4,82.1 94.4,84.7 95.4,86.7 96.4,89.7 97.4,93.0 98.4,94.9 99.4,97.6 100.4,99.0 101.4,102.5 102.3,104.3 103.3,106.9 104.3,109.2 105.3,111.3 106.3,113.5 107.3,115.9 108.3,117.8 109.3,119.9 110.3,121.9 111.3,123.9 112.2,125.9 113.2,127.8 114.2,129.7 115.2,131.5 116.2,133.2 117.2,135.0 118.2,136.6 119.2,138.3 120.2,139.9 121.2,141.4 122.2,142.9 123.1,144.4 124.1,145.8 125.1,147.2 126.1,148.5 127.1,149.8 128.1,151.0 129.1,152.3 130.1,153.4 131.1,154.6 132.1,155.7 133.1,156.8 134.0,157.8 135.0,158.8 136.0,159.8 137.0,160.7 138.0,161.7 139.0,162.5 140.0,163.4 141.0,164.2 142.0,165.0 143.0,165.8 143.9,166.6 144.9,167.3 145.9,168.0 146.9,168.7 147.9,169.3 148.9,170.0 149.9,170.6 150.9,171.2 151.9,171.8 152.9,172.3 153.9,172.9 154.8,173.4 155.8,173.9 156.8,174.4 157.8,174.9 158.8,175.3 159.8,175.8 160.8,176.2 161.8,176.6 162.8,177.0 163.8,177.4 164.7,177.8 165.7,178.1 166.7,178.5 167.7,178.8 168.7,179.2 169.7,179.5 170.7,179.8 171.7,180.1 172.7,180.4 173.7,180.7 174.7,180.9 175.6,181.2 176.6,181.4 177.6,181.7 178.6,181.9 179.6,182.2 180.6,182.4 181.6,182.6 182.6,182.8 183.6,183.0 184.6,183.2 185.5,183.4 186.5,183.6 187.5,183.8 188.5,183.9 189.5,184.1 190.5,184.3 191.5,184.4 192.5,184.6 193.5,184.7 194.5,184.9 195.5,185.0 196.4,185.2 197.4,185.3 198.4,185.4 199.4,185.5 200.4,185.7 201.4,185.8 202.4,185.9 203.4,186.0 204.4,186.1 205.4,186.2 206.3,186.3 207.3,186.4 208.3,186.5 209.3,186.6 210.3,186.7 211.3,186.8 212.3,186.8 213.3,186.9 214.3,187.0 215.3,187.1 216.3,187.2 217.2,187.2 218.2,187.3 219.2,187.4 220.2,187.4 221.2,187.5 222.2,187.6 223.2,187.6 224.2,187.7 225.2,187.7 226.2,187.8 227.1,187.9 228.1,187.9 229.1,188.0 230.1,188.0 231.1,188.1 232.1,188.1 233.1,188.2 234.1,188.2 235.1,188.2 236.1,188.3 237.1,188.3 238.0,188.4 239.0,188.4 240.0,188.5 241.0,188.5 242.0,188.5" fill="none" stroke="#0000ff" stroke-width="0.9" stroke-linejoin="round"/>
</g>
<line x1="34.5" y1="36.5" x2="34.5" y2="191" stroke="#3a3a3a" stroke-width="1.1"/>
<line x1="31" y1="190.2" x2="34.5" y2="190.2" stroke="#3a3a3a" stroke-width="1"/>
<line x1="31" y1="156.09" x2="34.5" y2="156.09" stroke="#3a3a3a" stroke-width="1"/>
<line x1="31" y1="121.98" x2="34.5" y2="121.98" stroke="#3a3a3a" stroke-width="1"/>
<line x1="31" y1="87.87" x2="34.5" y2="87.87" stroke="#3a3a3a" stroke-width="1"/>
<line x1="31" y1="53.76" x2="34.5" y2="53.76" stroke="#3a3a3a" stroke-width="1"/>
<line x1="32.3" y1="173.14" x2="34.5" y2="173.14" stroke="#3a3a3a" stroke-width="1"/>
<line x1="32.3" y1="139.03" x2="34.5" y2="139.03" stroke="#3a3a3a" stroke-width="1"/>
<line x1="32.3" y1="104.92" x2="34.5" y2="104.92" stroke="#3a3a3a" stroke-width="1"/>
<line x1="32.3" y1="70.81" x2="34.5" y2="70.81" stroke="#3a3a3a" stroke-width="1"/>
<line x1="32.3" y1="36.7" x2="34.5" y2="36.7" stroke="#3a3a3a" stroke-width="1"/>
<text x="28.2" y="192.7" font-size="7" text-anchor="end" letter-spacing="0.3">0</text>
<text x="28.2" y="158.59" font-size="7" text-anchor="end" letter-spacing="0.3">10</text>
<text x="28.2" y="124.48" font-size="7" text-anchor="end" letter-spacing="0.3">20</text>
<text x="28.2" y="90.37" font-size="7" text-anchor="end" letter-spacing="0.3">30</text>
<text x="28.2" y="56.26" font-size="7" text-anchor="end" letter-spacing="0.3">40</text>
<line x1="34" y1="190.5" x2="242.4" y2="190.5" stroke="#3a3a3a" stroke-width="1.1"/>
<line x1="43.91" y1="190.5" x2="43.91" y2="194" stroke="#3a3a3a" stroke-width="1"/>
<line x1="68.67" y1="190.5" x2="68.67" y2="194" stroke="#3a3a3a" stroke-width="1"/>
<line x1="93.43" y1="190.5" x2="93.43" y2="194" stroke="#3a3a3a" stroke-width="1"/>
<line x1="118.19" y1="190.5" x2="118.19" y2="194" stroke="#3a3a3a" stroke-width="1"/>
<line x1="142.95" y1="190.5" x2="142.95" y2="194" stroke="#3a3a3a" stroke-width="1"/>
<line x1="167.72" y1="190.5" x2="167.72" y2="194" stroke="#3a3a3a" stroke-width="1"/>
<line x1="192.48" y1="190.5" x2="192.48" y2="194" stroke="#3a3a3a" stroke-width="1"/>
<line x1="217.24" y1="190.5" x2="217.24" y2="194" stroke="#3a3a3a" stroke-width="1"/>
<line x1="242.01" y1="190.5" x2="242.01" y2="194" stroke="#3a3a3a" stroke-width="1"/>
<line x1="56.29" y1="190.5" x2="56.29" y2="192.7" stroke="#3a3a3a" stroke-width="1"/>
<line x1="81.05" y1="190.5" x2="81.05" y2="192.7" stroke="#3a3a3a" stroke-width="1"/>
<line x1="105.81" y1="190.5" x2="105.81" y2="192.7" stroke="#3a3a3a" stroke-width="1"/>
<line x1="130.57" y1="190.5" x2="130.57" y2="192.7" stroke="#3a3a3a" stroke-width="1"/>
<line x1="155.34" y1="190.5" x2="155.34" y2="192.7" stroke="#3a3a3a" stroke-width="1"/>
<line x1="180.1" y1="190.5" x2="180.1" y2="192.7" stroke="#3a3a3a" stroke-width="1"/>
<line x1="204.86" y1="190.5" x2="204.86" y2="192.7" stroke="#3a3a3a" stroke-width="1"/>
<line x1="229.62" y1="190.5" x2="229.62" y2="192.7" stroke="#3a3a3a" stroke-width="1"/>
<text x="43.91" y="201.3" font-size="7" text-anchor="middle" letter-spacing="0.3">450</text>
<text x="68.67" y="201.3" font-size="7" text-anchor="middle" letter-spacing="0.3">475</text>
<text x="93.43" y="201.3" font-size="7" text-anchor="middle" letter-spacing="0.3">500</text>
<text x="118.19" y="201.3" font-size="7" text-anchor="middle" letter-spacing="0.3">525</text>
<text x="142.95" y="201.3" font-size="7" text-anchor="middle" letter-spacing="0.3">550</text>
<text x="167.72" y="201.3" font-size="7" text-anchor="middle" letter-spacing="0.3">575</text>
<text x="192.48" y="201.3" font-size="7" text-anchor="middle" letter-spacing="0.3">600</text>
<text x="217.24" y="201.3" font-size="7" text-anchor="middle" letter-spacing="0.3">625</text>
<text x="242.01" y="201.3" font-size="7" text-anchor="middle" letter-spacing="0.3">650</text>
<text x="129.6" y="216.6" font-size="10.3" text-anchor="middle">λ / nm</text>
<text transform="translate(14.4,117.7) rotate(-90)" font-size="9.6" text-anchor="middle" textLength="113" lengthAdjust="spacingAndGlyphs">Rel. Fluo. Int. (a.u.) x 1000</text>
<line x1="139.8" y1="65" x2="139.8" y2="124" stroke="#1a1a1a" stroke-width="1.8"/>
<path d="M138.0,121.5 L141.6,121.5 L139.8,126.2 Z" fill="#1a1a1a"/>
<g>
<polyline points="32.5,418.5 33.6,417.4 34.7,417.0 35.8,417.7 36.9,416.4 37.9,416.5 39.0,416.3 40.1,416.6 41.2,416.6 42.3,417.0 43.4,416.7 44.5,416.7 45.6,417.5 46.7,417.3 47.8,417.8 48.8,417.6 49.9,417.9 51.0,419.4 52.1,418.8 53.2,419.0 54.3,420.0 55.4,420.3 56.5,420.7 57.6,421.5 58.6,421.6 59.7,421.5 60.8,422.4 61.9,422.5 63.0,423.2 64.1,423.6 65.2,424.5 66.3,424.7 67.4,424.8 68.5,425.5 69.5,426.4 70.6,427.2 71.7,427.8 72.8,427.9 73.9,428.3 75.0,429.5 76.1,429.3 77.2,429.7 78.3,430.2 79.3,430.9 80.4,430.4 81.5,431.3 82.6,432.5 83.7,432.7 84.8,432.6 85.9,433.1 87.0,433.6 88.1,434.0 89.2,434.4 90.2,434.7 91.3,435.1 92.4,435.4 93.5,435.8 94.6,436.1 95.7,436.4 96.8,436.7 97.9,437.0 99.0,437.3 100.0,437.5 101.1,437.8 102.2,438.1 103.3,438.3 104.4,438.5 105.5,438.8 106.6,439.0 107.7,439.2 108.8,439.4 109.9,439.6 110.9,439.8 112.0,440.0 113.1,440.2 114.2,440.4 115.3,440.6 116.4,440.7 117.5,440.9 118.6,441.0 119.7,441.2 120.7,441.3 121.8,441.5 122.9,441.6 124.0,441.7 125.1,441.8 126.2,442.0 127.3,442.1 128.4,442.2 129.5,442.3 130.6,442.4 131.6,442.5 132.7,442.6 133.8,442.7 134.9,442.8 136.0,442.9 137.1,442.9 138.2,443.0 139.3,443.1 140.4,443.2 141.4,443.2 142.5,443.3 143.6,443.4 144.7,443.4 145.8,443.5 146.9,443.6 148.0,443.6 149.1,443.7 150.2,443.7 151.3,443.8 152.3,443.8 153.4,443.9 154.5,443.9 155.6,443.9 156.7,444.0 157.8,444.0 158.9,444.1 160.0,444.1 161.1,444.1 162.2,444.2 163.2,444.2 164.3,444.2 165.4,444.3 166.5,444.3 167.6,444.3 168.7,444.3 169.8,444.4 170.9,444.4 172.0,444.4 173.0,444.4 174.1,444.5 175.2,444.5 176.3,444.5 177.4,444.5 178.5,444.6 179.6,444.6 180.7,444.6 181.8,444.6 182.9,444.6 183.9,444.6 185.0,444.7 186.1,444.7 187.2,444.7 188.3,444.7 189.4,444.7 190.5,444.7 191.6,444.7 192.7,444.7 193.7,444.8 194.8,444.8 195.9,444.8 197.0,444.8 198.1,444.8 199.2,444.8 200.3,444.8 201.4,444.8 202.5,444.8 203.6,444.8 204.6,444.9 205.7,444.9 206.8,444.9 207.9,444.9 209.0,444.9 210.1,444.9 211.2,444.9 212.3,444.9 213.4,444.9 214.4,444.9 215.5,444.9 216.6,444.9 217.7,444.9 218.8,444.9 219.9,444.9 221.0,444.9 222.1,445.0 223.2,445.0 224.3,445.0 225.3,445.0 226.4,445.0 227.5,445.0 228.6,445.0" fill="none" stroke="#00a000" stroke-width="0.9" stroke-linejoin="round"/>
<polyline points="32.5,410.6 33.6,409.2 34.7,409.0 35.8,408.5 36.9,408.6 37.9,408.1 39.0,408.3 40.1,408.5 41.2,408.2 42.3,408.3 43.4,408.5 44.5,408.5 45.6,409.6 46.7,409.2 47.8,409.9 48.8,410.1 49.9,410.2 51.0,410.8 52.1,411.5 53.2,411.6 54.3,412.3 55.4,412.6 56.5,413.0 57.6,414.1 58.6,415.0 59.7,415.2 60.8,415.6 61.9,416.4 63.0,417.5 64.1,418.3 65.2,418.7 66.3,419.3 67.4,419.5 68.5,420.3 69.5,420.7 70.6,421.6 71.7,421.7 72.8,422.8 73.9,423.3 75.0,424.2 76.1,424.5 77.2,424.9 78.3,425.6 79.3,426.0 80.4,427.2 81.5,427.4 82.6,427.5 83.7,428.5 84.8,429.2 85.9,429.7 87.0,430.3 88.1,430.7 89.2,431.1 90.2,431.6 91.3,432.0 92.4,432.5 93.5,432.9 94.6,433.3 95.7,433.7 96.8,434.1 97.9,434.5 99.0,434.8 100.0,435.2 101.1,435.5 102.2,435.9 103.3,436.2 104.4,436.5 105.5,436.8 106.6,437.1 107.7,437.4 108.8,437.7 109.9,437.9 110.9,438.2 112.0,438.4 113.1,438.7 114.2,438.9 115.3,439.1 116.4,439.4 117.5,439.6 118.6,439.8 119.7,440.0 120.7,440.1 121.8,440.3 122.9,440.5 124.0,440.7 125.1,440.8 126.2,441.0 127.3,441.1 128.4,441.3 129.5,441.4 130.6,441.5 131.6,441.7 132.7,441.8 133.8,441.9 134.9,442.0 136.0,442.1 137.1,442.3 138.2,442.4 139.3,442.5 140.4,442.6 141.4,442.6 142.5,442.7 143.6,442.8 144.7,442.9 145.8,443.0 146.9,443.1 148.0,443.1 149.1,443.2 150.2,443.3 151.3,443.3 152.3,443.4 153.4,443.5 154.5,443.5 155.6,443.6 156.7,443.6 157.8,443.7 158.9,443.7 160.0,443.8 161.1,443.8 162.2,443.9 163.2,443.9 164.3,444.0 165.4,444.0 166.5,444.0 167.6,444.1 168.7,444.1 169.8,444.1 170.9,444.2 172.0,444.2 173.0,444.2 174.1,444.3 175.2,444.3 176.3,444.3 177.4,444.3 178.5,444.4 179.6,444.4 180.7,444.4 181.8,444.4 182.9,444.5 183.9,444.5 185.0,444.5 186.1,444.5 187.2,444.5 188.3,444.6 189.4,444.6 190.5,444.6 191.6,444.6 192.7,444.6 193.7,444.6 194.8,444.7 195.9,444.7 197.0,444.7 198.1,444.7 199.2,444.7 200.3,444.7 201.4,444.7 202.5,444.8 203.6,444.8 204.6,444.8 205.7,444.8 206.8,444.8 207.9,444.8 209.0,444.8 210.1,444.8 211.2,444.8 212.3,444.8 213.4,444.8 214.4,444.9 215.5,444.9 216.6,444.9 217.7,444.9 218.8,444.9 219.9,444.9 221.0,444.9 222.1,444.9 223.2,444.9 224.3,444.9 225.3,444.9 226.4,444.9 227.5,444.9 228.6,444.9" fill="none" stroke="#ff0080" stroke-width="0.9" stroke-linejoin="round"/>
<polyline points="32.5,404.8 33.6,404.2 34.7,403.2 35.8,402.2 36.9,401.7 37.9,402.4 39.0,402.1 40.1,402.3 41.2,402.5 42.3,402.1 43.4,402.2 44.5,402.7 45.6,402.6 46.7,403.2 47.8,403.2 48.8,404.1 49.9,404.2 51.0,405.0 52.1,405.5 53.2,405.9 54.3,407.1 55.4,407.6 56.5,408.0 57.6,408.7 58.6,409.3 59.7,410.3 60.8,411.2 61.9,411.5 63.0,412.2 64.1,413.2 65.2,413.4 66.3,414.3 67.4,415.0 68.5,415.7 69.5,417.0 70.6,416.8 71.7,418.4 72.8,418.8 73.9,419.4 75.0,420.3 76.1,421.0 77.2,422.0 78.3,422.6 79.3,423.1 80.4,423.4 81.5,424.6 82.6,424.8 83.7,425.5 84.8,426.3 85.9,427.1 87.0,427.5 88.1,428.0 89.2,428.6 90.2,429.1 91.3,429.7 92.4,430.2 93.5,430.7 94.6,431.2 95.7,431.6 96.8,432.1 97.9,432.5 99.0,433.0 100.0,433.4 101.1,433.8 102.2,434.2 103.3,434.6 104.4,434.9 105.5,435.3 106.6,435.6 107.7,436.0 108.8,436.3 109.9,436.6 110.9,436.9 112.0,437.2 113.1,437.5 114.2,437.8 115.3,438.0 116.4,438.3 117.5,438.5 118.6,438.8 119.7,439.0 120.7,439.2 121.8,439.4 122.9,439.6 124.0,439.8 125.1,440.0 126.2,440.2 127.3,440.4 128.4,440.5 129.5,440.7 130.6,440.9 131.6,441.0 132.7,441.2 133.8,441.3 134.9,441.5 136.0,441.6 137.1,441.7 138.2,441.8 139.3,441.9 140.4,442.1 141.4,442.2 142.5,442.3 143.6,442.4 144.7,442.5 145.8,442.6 146.9,442.7 148.0,442.7 149.1,442.8 150.2,442.9 151.3,443.0 152.3,443.1 153.4,443.1 154.5,443.2 155.6,443.3 156.7,443.3 157.8,443.4 158.9,443.5 160.0,443.5 161.1,443.6 162.2,443.6 163.2,443.7 164.3,443.7 165.4,443.8 166.5,443.8 167.6,443.9 168.7,443.9 169.8,444.0 170.9,444.0 172.0,444.0 173.0,444.1 174.1,444.1 175.2,444.1 176.3,444.2 177.4,444.2 178.5,444.2 179.6,444.3 180.7,444.3 181.8,444.3 182.9,444.3 183.9,444.4 185.0,444.4 186.1,444.4 187.2,444.4 188.3,444.5 189.4,444.5 190.5,444.5 191.6,444.5 192.7,444.5 193.7,444.6 194.8,444.6 195.9,444.6 197.0,444.6 198.1,444.6 199.2,444.6 200.3,444.7 201.4,444.7 202.5,444.7 203.6,444.7 204.6,444.7 205.7,444.7 206.8,444.7 207.9,444.7 209.0,444.8 210.1,444.8 211.2,444.8 212.3,444.8 213.4,444.8 214.4,444.8 215.5,444.8 216.6,444.8 217.7,444.8 218.8,444.8 219.9,444.8 221.0,444.9 222.1,444.9 223.2,444.9 224.3,444.9 225.3,444.9 226.4,444.9 227.5,444.9 228.6,444.9" fill="none" stroke="#800000" stroke-width="0.9" stroke-linejoin="round"/>
<polyline points="32.5,399.6 33.6,398.2 34.7,397.8 35.8,397.4 36.9,397.1 37.9,396.7 39.0,396.5 40.1,396.7 41.2,396.7 42.3,396.7 43.4,397.1 44.5,397.1 45.6,397.8 46.7,398.3 47.8,398.5 48.8,398.5 49.9,399.1 51.0,400.6 52.1,400.6 53.2,401.5 54.3,402.1 55.4,402.8 56.5,403.5 57.6,404.4 58.6,405.1 59.7,405.7 60.8,407.0 61.9,407.8 63.0,408.6 64.1,409.4 65.2,409.7 66.3,411.1 67.4,411.6 68.5,412.4 69.5,413.0 70.6,414.1 71.7,414.5 72.8,415.7 73.9,416.4 75.0,417.1 76.1,418.6 77.2,418.7 78.3,419.2 79.3,420.4 80.4,421.2 81.5,421.3 82.6,422.5 83.7,422.9 84.8,424.7 85.9,424.6 87.0,425.4 88.1,425.9 89.2,426.5 90.2,427.1 91.3,427.7 92.4,428.3 93.5,428.8 94.6,429.4 95.7,429.9 96.8,430.4 97.9,430.9 99.0,431.4 100.0,431.9 101.1,432.3 102.2,432.8 103.3,433.2 104.4,433.6 105.5,434.0 106.6,434.4 107.7,434.8 108.8,435.2 109.9,435.5 110.9,435.8 112.0,436.2 113.1,436.5 114.2,436.8 115.3,437.1 116.4,437.4 117.5,437.7 118.6,437.9 119.7,438.2 120.7,438.4 121.8,438.7 122.9,438.9 124.0,439.1 125.1,439.3 126.2,439.6 127.3,439.8 128.4,439.9 129.5,440.1 130.6,440.3 131.6,440.5 132.7,440.6 133.8,440.8 134.9,441.0 136.0,441.1 137.1,441.3 138.2,441.4 139.3,441.5 140.4,441.7 141.4,441.8 142.5,441.9 143.6,442.0 144.7,442.1 145.8,442.2 146.9,442.3 148.0,442.4 149.1,442.5 150.2,442.6 151.3,442.7 152.3,442.8 153.4,442.9 154.5,443.0 155.6,443.0 156.7,443.1 157.8,443.2 158.9,443.2 160.0,443.3 161.1,443.4 162.2,443.4 163.2,443.5 164.3,443.5 165.4,443.6 166.5,443.6 167.6,443.7 168.7,443.7 169.8,443.8 170.9,443.8 172.0,443.9 173.0,443.9 174.1,444.0 175.2,444.0 176.3,444.0 177.4,444.1 178.5,444.1 179.6,444.1 180.7,444.2 181.8,444.2 182.9,444.2 183.9,444.3 185.0,444.3 186.1,444.3 187.2,444.3 188.3,444.4 189.4,444.4 190.5,444.4 191.6,444.4 192.7,444.5 193.7,444.5 194.8,444.5 195.9,444.5 197.0,444.5 198.1,444.6 199.2,444.6 200.3,444.6 201.4,444.6 202.5,444.6 203.6,444.6 204.6,444.7 205.7,444.7 206.8,444.7 207.9,444.7 209.0,444.7 210.1,444.7 211.2,444.7 212.3,444.7 213.4,444.8 214.4,444.8 215.5,444.8 216.6,444.8 217.7,444.8 218.8,444.8 219.9,444.8 221.0,444.8 222.1,444.8 223.2,444.8 224.3,444.8 225.3,444.9 226.4,444.9 227.5,444.9 228.6,444.9" fill="none" stroke="#000080" stroke-width="0.9" stroke-linejoin="round"/>
<polyline points="32.5,395.6 33.6,394.3 34.7,394.6 35.8,393.9 36.9,392.9 37.9,392.8 39.0,393.2 40.1,392.8 41.2,392.2 42.3,393.1 43.4,393.0 44.5,393.5 45.6,394.1 46.7,393.7 47.8,394.4 48.8,394.9 49.9,395.9 51.0,396.4 52.1,397.0 53.2,397.6 54.3,398.6 55.4,399.4 56.5,399.6 57.6,401.2 58.6,401.8 59.7,402.7 60.8,403.6 61.9,404.7 63.0,405.4 64.1,405.8 65.2,407.1 66.3,408.1 67.4,408.2 68.5,410.1 69.5,410.2 70.6,411.4 71.7,412.8 72.8,413.4 73.9,414.2 75.0,414.6 76.1,415.5 77.2,416.8 78.3,417.9 79.3,418.8 80.4,419.2 81.5,420.3 82.6,420.7 83.7,421.5 84.8,422.0 85.9,422.6 87.0,423.5 88.1,424.2 89.2,424.9 90.2,425.6 91.3,426.2 92.4,426.8 93.5,427.4 94.6,428.0 95.7,428.6 96.8,429.1 97.9,429.7 99.0,430.2 100.0,430.7 101.1,431.2 102.2,431.7 103.3,432.2 104.4,432.6 105.5,433.0 106.6,433.5 107.7,433.9 108.8,434.3 109.9,434.6 110.9,435.0 112.0,435.4 113.1,435.7 114.2,436.1 115.3,436.4 116.4,436.7 117.5,437.0 118.6,437.3 119.7,437.6 120.7,437.8 121.8,438.1 122.9,438.3 124.0,438.6 125.1,438.8 126.2,439.0 127.3,439.3 128.4,439.5 129.5,439.7 130.6,439.9 131.6,440.1 132.7,440.2 133.8,440.4 134.9,440.6 136.0,440.7 137.1,440.9 138.2,441.0 139.3,441.2 140.4,441.3 141.4,441.5 142.5,441.6 143.6,441.7 144.7,441.8 145.8,442.0 146.9,442.1 148.0,442.2 149.1,442.3 150.2,442.4 151.3,442.5 152.3,442.6 153.4,442.7 154.5,442.7 155.6,442.8 156.7,442.9 157.8,443.0 158.9,443.1 160.0,443.1 161.1,443.2 162.2,443.3 163.2,443.3 164.3,443.4 165.4,443.5 166.5,443.5 167.6,443.6 168.7,443.6 169.8,443.7 170.9,443.7 172.0,443.8 173.0,443.8 174.1,443.9 175.2,443.9 176.3,443.9 177.4,444.0 178.5,444.0 179.6,444.0 180.7,444.1 181.8,444.1 182.9,444.2 183.9,444.2 185.0,444.2 186.1,444.2 187.2,444.3 188.3,444.3 189.4,444.3 190.5,444.3 191.6,444.4 192.7,444.4 193.7,444.4 194.8,444.4 195.9,444.5 197.0,444.5 198.1,444.5 199.2,444.5 200.3,444.5 201.4,444.6 202.5,444.6 203.6,444.6 204.6,444.6 205.7,444.6 206.8,444.6 207.9,444.7 209.0,444.7 210.1,444.7 211.2,444.7 212.3,444.7 213.4,444.7 214.4,444.7 215.5,444.7 216.6,444.8 217.7,444.8 218.8,444.8 219.9,444.8 221.0,444.8 222.1,444.8 223.2,444.8 224.3,444.8 225.3,444.8 226.4,444.8 227.5,444.8 228.6,444.9" fill="none" stroke="#808000" stroke-width="0.9" stroke-linejoin="round"/>
<polyline points="32.5,389.9 33.6,388.9 34.7,388.2 35.8,387.0 36.9,386.8 37.9,386.6 39.0,386.2 40.1,385.8 41.2,386.6 42.3,386.7 43.4,387.0 44.5,387.6 45.6,387.8 46.7,388.4 47.8,388.4 48.8,389.0 49.9,389.5 51.0,390.7 52.1,390.9 53.2,392.3 54.3,392.8 55.4,393.2 56.5,394.1 57.6,395.1 58.6,395.7 59.7,396.9 60.8,398.3 61.9,399.3 63.0,400.4 64.1,401.1 65.2,402.4 66.3,403.4 67.4,404.5 68.5,405.8 69.5,405.4 70.6,406.9 71.7,408.9 72.8,409.1 73.9,410.4 75.0,411.8 76.1,412.2 77.2,413.0 78.3,413.8 79.3,414.5 80.4,416.0 81.5,416.7 82.6,417.3 83.7,418.2 84.8,419.0 85.9,419.9 87.0,420.4 88.1,421.9 89.2,422.3 90.2,423.0 91.3,423.7 92.4,424.4 93.5,425.1 94.6,425.8 95.7,426.4 96.8,427.1 97.9,427.7 99.0,428.3 100.0,428.8 101.1,429.4 102.2,429.9 103.3,430.4 104.4,430.9 105.5,431.4 106.6,431.9 107.7,432.4 108.8,432.8 109.9,433.2 110.9,433.7 112.0,434.1 113.1,434.5 114.2,434.8 115.3,435.2 116.4,435.5 117.5,435.9 118.6,436.2 119.7,436.5 120.7,436.8 121.8,437.1 122.9,437.4 124.0,437.7 125.1,438.0 126.2,438.2 127.3,438.5 128.4,438.7 129.5,438.9 130.6,439.1 131.6,439.4 132.7,439.6 133.8,439.8 134.9,440.0 136.0,440.1 137.1,440.3 138.2,440.5 139.3,440.6 140.4,440.8 141.4,441.0 142.5,441.1 143.6,441.3 144.7,441.4 145.8,441.5 146.9,441.6 148.0,441.8 149.1,441.9 150.2,442.0 151.3,442.1 152.3,442.2 153.4,442.3 154.5,442.4 155.6,442.5 156.7,442.6 157.8,442.7 158.9,442.8 160.0,442.9 161.1,442.9 162.2,443.0 163.2,443.1 164.3,443.1 165.4,443.2 166.5,443.3 167.6,443.3 168.7,443.4 169.8,443.5 170.9,443.5 172.0,443.6 173.0,443.6 174.1,443.7 175.2,443.7 176.3,443.8 177.4,443.8 178.5,443.9 179.6,443.9 180.7,443.9 181.8,444.0 182.9,444.0 183.9,444.0 185.0,444.1 186.1,444.1 187.2,444.1 188.3,444.2 189.4,444.2 190.5,444.2 191.6,444.3 192.7,444.3 193.7,444.3 194.8,444.3 195.9,444.4 197.0,444.4 198.1,444.4 199.2,444.4 200.3,444.5 201.4,444.5 202.5,444.5 203.6,444.5 204.6,444.5 205.7,444.6 206.8,444.6 207.9,444.6 209.0,444.6 210.1,444.6 211.2,444.6 212.3,444.6 213.4,444.7 214.4,444.7 215.5,444.7 216.6,444.7 217.7,444.7 218.8,444.7 219.9,444.7 221.0,444.7 222.1,444.8 223.2,444.8 224.3,444.8 225.3,444.8 226.4,444.8 227.5,444.8 228.6,444.8" fill="none" stroke="#ff00ff" stroke-width="0.9" stroke-linejoin="round"/>
<polyline points="32.5,385.5 33.6,385.2 34.7,383.4 35.8,382.4 36.9,382.4 37.9,382.6 39.0,382.3 40.1,382.1 41.2,382.1 42.3,382.0 43.4,382.4 44.5,383.6 45.6,383.4 46.7,383.9 47.8,383.8 48.8,385.2 49.9,386.1 51.0,386.5 52.1,387.1 53.2,388.6 54.3,388.5 55.4,389.8 56.5,390.4 57.6,391.4 58.6,392.5 59.7,393.2 60.8,394.2 61.9,395.9 63.0,396.8 64.1,397.5 65.2,398.9 66.3,400.2 67.4,401.1 68.5,402.4 69.5,403.4 70.6,405.4 71.7,405.3 72.8,405.9 73.9,407.3 75.0,408.3 76.1,409.5 77.2,410.8 78.3,411.4 79.3,412.5 80.4,413.5 81.5,414.3 82.6,415.5 83.7,416.2 84.8,416.9 85.9,417.7 87.0,418.8 88.1,419.4 89.2,420.5 90.2,421.3 91.3,422.0 92.4,422.8 93.5,423.5 94.6,424.2 95.7,424.9 96.8,425.6 97.9,426.3 99.0,426.9 100.0,427.5 101.1,428.1 102.2,428.7 103.3,429.2 104.4,429.8 105.5,430.3 106.6,430.8 107.7,431.3 108.8,431.8 109.9,432.3 110.9,432.7 112.0,433.2 113.1,433.6 114.2,434.0 115.3,434.4 116.4,434.8 117.5,435.1 118.6,435.5 119.7,435.8 120.7,436.1 121.8,436.5 122.9,436.8 124.0,437.1 125.1,437.4 126.2,437.6 127.3,437.9 128.4,438.2 129.5,438.4 130.6,438.6 131.6,438.9 132.7,439.1 133.8,439.3 134.9,439.5 136.0,439.7 137.1,439.9 138.2,440.1 139.3,440.3 140.4,440.4 141.4,440.6 142.5,440.8 143.6,440.9 144.7,441.1 145.8,441.2 146.9,441.3 148.0,441.5 149.1,441.6 150.2,441.7 151.3,441.8 152.3,442.0 153.4,442.1 154.5,442.2 155.6,442.3 156.7,442.4 157.8,442.5 158.9,442.6 160.0,442.7 161.1,442.7 162.2,442.8 163.2,442.9 164.3,443.0 165.4,443.0 166.5,443.1 167.6,443.2 168.7,443.3 169.8,443.3 170.9,443.4 172.0,443.4 173.0,443.5 174.1,443.5 175.2,443.6 176.3,443.6 177.4,443.7 178.5,443.7 179.6,443.8 180.7,443.8 181.8,443.9 182.9,443.9 183.9,444.0 185.0,444.0 186.1,444.0 187.2,444.1 188.3,444.1 189.4,444.1 190.5,444.2 191.6,444.2 192.7,444.2 193.7,444.3 194.8,444.3 195.9,444.3 197.0,444.3 198.1,444.4 199.2,444.4 200.3,444.4 201.4,444.4 202.5,444.4 203.6,444.5 204.6,444.5 205.7,444.5 206.8,444.5 207.9,444.5 209.0,444.6 210.1,444.6 211.2,444.6 212.3,444.6 213.4,444.6 214.4,444.6 215.5,444.7 216.6,444.7 217.7,444.7 218.8,444.7 219.9,444.7 221.0,444.7 222.1,444.7 223.2,444.7 224.3,444.7 225.3,444.8 226.4,444.8 227.5,444.8 228.6,444.8" fill="none" stroke="#008080" stroke-width="0.9" stroke-linejoin="round"/>
<polyline points="32.5,379.9 33.6,379.1 34.7,378.3 35.8,377.2 36.9,377.0 37.9,376.2 39.0,375.9 40.1,375.7 41.2,375.9 42.3,376.5 43.4,376.5 44.5,377.4 45.6,377.3 46.7,378.2 47.8,378.2 48.8,379.5 49.9,379.9 51.0,381.0 52.1,381.4 53.2,382.3 54.3,383.8 55.4,383.8 56.5,385.3 57.6,387.0 58.6,387.9 59.7,389.3 60.8,390.4 61.9,391.0 63.0,392.8 64.1,393.1 65.2,394.9 66.3,395.7 67.4,396.3 68.5,398.1 69.5,399.1 70.6,399.9 71.7,401.6 72.8,402.4 73.9,404.0 75.0,405.0 76.1,406.0 77.2,407.1 78.3,408.4 79.3,409.2 80.4,410.1 81.5,411.1 82.6,412.3 83.7,413.6 84.8,414.1 85.9,415.0 87.0,416.5 88.1,417.8 89.2,418.0 90.2,418.8 91.3,419.7 92.4,420.5 93.5,421.3 94.6,422.1 95.7,422.9 96.8,423.6 97.9,424.3 99.0,425.0 100.0,425.7 101.1,426.3 102.2,427.0 103.3,427.6 104.4,428.2 105.5,428.8 106.6,429.3 107.7,429.9 108.8,430.4 109.9,430.9 110.9,431.4 112.0,431.9 113.1,432.4 114.2,432.8 115.3,433.2 116.4,433.6 117.5,434.1 118.6,434.4 119.7,434.8 120.7,435.2 121.8,435.5 122.9,435.9 124.0,436.2 125.1,436.5 126.2,436.8 127.3,437.1 128.4,437.4 129.5,437.7 130.6,437.9 131.6,438.2 132.7,438.4 133.8,438.7 134.9,438.9 136.0,439.1 137.1,439.3 138.2,439.5 139.3,439.7 140.4,439.9 141.4,440.1 142.5,440.3 143.6,440.5 144.7,440.6 145.8,440.8 146.9,440.9 148.0,441.1 149.1,441.2 150.2,441.4 151.3,441.5 152.3,441.6 153.4,441.7 154.5,441.8 155.6,442.0 156.7,442.1 157.8,442.2 158.9,442.3 160.0,442.4 161.1,442.5 162.2,442.6 163.2,442.6 164.3,442.7 165.4,442.8 166.5,442.9 167.6,443.0 168.7,443.0 169.8,443.1 170.9,443.2 172.0,443.2 173.0,443.3 174.1,443.4 175.2,443.4 176.3,443.5 177.4,443.5 178.5,443.6 179.6,443.6 180.7,443.7 181.8,443.7 182.9,443.8 183.9,443.8 185.0,443.9 186.1,443.9 187.2,443.9 188.3,444.0 189.4,444.0 190.5,444.1 191.6,444.1 192.7,444.1 193.7,444.2 194.8,444.2 195.9,444.2 197.0,444.2 198.1,444.3 199.2,444.3 200.3,444.3 201.4,444.3 202.5,444.4 203.6,444.4 204.6,444.4 205.7,444.4 206.8,444.5 207.9,444.5 209.0,444.5 210.1,444.5 211.2,444.5 212.3,444.5 213.4,444.6 214.4,444.6 215.5,444.6 216.6,444.6 217.7,444.6 218.8,444.6 219.9,444.7 221.0,444.7 222.1,444.7 223.2,444.7 224.3,444.7 225.3,444.7 226.4,444.7 227.5,444.7 228.6,444.8" fill="none" stroke="#0000ff" stroke-width="0.9" stroke-linejoin="round"/>
<polyline points="32.5,370.8 33.6,370.2 34.7,369.5 35.8,368.9 36.9,367.7 37.9,366.6 39.0,366.9 40.1,367.5 41.2,367.7 42.3,366.4 43.4,367.8 44.5,368.5 45.6,368.5 46.7,368.9 47.8,369.3 48.8,370.6 49.9,371.6 51.0,372.0 52.1,373.4 53.2,374.1 54.3,375.2 55.4,376.0 56.5,377.7 57.6,378.9 58.6,379.8 59.7,380.9 60.8,382.8 61.9,383.9 63.0,384.9 64.1,386.3 65.2,386.8 66.3,388.6 67.4,389.8 68.5,391.5 69.5,392.8 70.6,394.1 71.7,395.1 72.8,396.8 73.9,397.5 75.0,399.5 76.1,400.2 77.2,401.7 78.3,403.1 79.3,403.7 80.4,405.1 81.5,406.6 82.6,408.0 83.7,408.6 84.8,410.2 85.9,410.8 87.0,412.3 88.1,413.1 89.2,414.1 90.2,415.1 91.3,416.0 92.4,417.0 93.5,417.9 94.6,418.7 95.7,419.6 96.8,420.4 97.9,421.3 99.0,422.1 100.0,422.8 101.1,423.6 102.2,424.3 103.3,425.0 104.4,425.7 105.5,426.3 106.6,427.0 107.7,427.6 108.8,428.2 109.9,428.8 110.9,429.4 112.0,429.9 113.1,430.4 114.2,430.9 115.3,431.4 116.4,431.9 117.5,432.4 118.6,432.8 119.7,433.2 120.7,433.7 121.8,434.1 122.9,434.5 124.0,434.8 125.1,435.2 126.2,435.5 127.3,435.9 128.4,436.2 129.5,436.5 130.6,436.8 131.6,437.1 132.7,437.4 133.8,437.7 134.9,437.9 136.0,438.2 137.1,438.4 138.2,438.7 139.3,438.9 140.4,439.1 141.4,439.3 142.5,439.5 143.6,439.7 144.7,439.9 145.8,440.1 146.9,440.3 148.0,440.4 149.1,440.6 150.2,440.7 151.3,440.9 152.3,441.0 153.4,441.2 154.5,441.3 155.6,441.5 156.7,441.6 157.8,441.7 158.9,441.8 160.0,441.9 161.1,442.0 162.2,442.1 163.2,442.2 164.3,442.3 165.4,442.4 166.5,442.5 167.6,442.6 168.7,442.7 169.8,442.8 170.9,442.9 172.0,442.9 173.0,443.0 174.1,443.1 175.2,443.1 176.3,443.2 177.4,443.3 178.5,443.3 179.6,443.4 180.7,443.4 181.8,443.5 182.9,443.6 183.9,443.6 185.0,443.7 186.1,443.7 187.2,443.7 188.3,443.8 189.4,443.8 190.5,443.9 191.6,443.9 192.7,444.0 193.7,444.0 194.8,444.0 195.9,444.1 197.0,444.1 198.1,444.1 199.2,444.2 200.3,444.2 201.4,444.2 202.5,444.2 203.6,444.3 204.6,444.3 205.7,444.3 206.8,444.3 207.9,444.4 209.0,444.4 210.1,444.4 211.2,444.4 212.3,444.5 213.4,444.5 214.4,444.5 215.5,444.5 216.6,444.5 217.7,444.5 218.8,444.6 219.9,444.6 221.0,444.6 222.1,444.6 223.2,444.6 224.3,444.6 225.3,444.7 226.4,444.7 227.5,444.7 228.6,444.7" fill="none" stroke="#ff0000" stroke-width="0.9" stroke-linejoin="round"/>
<polyline points="32.5,364.8 33.6,363.5 34.7,362.8 35.8,361.7 36.9,360.8 37.9,360.8 39.0,360.6 40.1,361.0 41.2,360.5 42.3,360.6 43.4,360.6 44.5,361.7 45.6,362.4 46.7,362.2 47.8,362.9 48.8,364.4 49.9,365.1 51.0,366.5 52.1,366.9 53.2,367.6 54.3,368.9 55.4,370.6 56.5,371.4 57.6,373.0 58.6,374.0 59.7,375.6 60.8,376.6 61.9,377.8 63.0,379.5 64.1,380.9 65.2,382.3 66.3,383.6 67.4,385.4 68.5,386.7 69.5,388.2 70.6,389.1 71.7,390.9 72.8,392.2 73.9,393.9 75.0,395.5 76.1,396.6 77.2,397.7 78.3,399.2 79.3,400.6 80.4,401.8 81.5,402.8 82.6,404.1 83.7,405.4 84.8,406.9 85.9,408.0 87.0,407.8 88.1,410.1 89.2,411.2 90.2,412.2 91.3,413.3 92.4,414.3 93.5,415.3 94.6,416.2 95.7,417.2 96.8,418.1 97.9,419.0 99.0,419.8 100.0,420.7 101.1,421.5 102.2,422.3 103.3,423.0 104.4,423.8 105.5,424.5 106.6,425.2 107.7,425.9 108.8,426.5 109.9,427.2 110.9,427.8 112.0,428.4 113.1,429.0 114.2,429.5 115.3,430.1 116.4,430.6 117.5,431.1 118.6,431.6 119.7,432.1 120.7,432.5 121.8,432.9 122.9,433.4 124.0,433.8 125.1,434.2 126.2,434.6 127.3,434.9 128.4,435.3 129.5,435.6 130.6,436.0 131.6,436.3 132.7,436.6 133.8,436.9 134.9,437.2 136.0,437.5 137.1,437.7 138.2,438.0 139.3,438.2 140.4,438.5 141.4,438.7 142.5,438.9 143.6,439.1 144.7,439.4 145.8,439.6 146.9,439.7 148.0,439.9 149.1,440.1 150.2,440.3 151.3,440.5 152.3,440.6 153.4,440.8 154.5,440.9 155.6,441.1 156.7,441.2 157.8,441.3 158.9,441.5 160.0,441.6 161.1,441.7 162.2,441.8 163.2,441.9 164.3,442.0 165.4,442.1 166.5,442.2 167.6,442.3 168.7,442.4 169.8,442.5 170.9,442.6 172.0,442.7 173.0,442.8 174.1,442.9 175.2,442.9 176.3,443.0 177.4,443.1 178.5,443.1 179.6,443.2 180.7,443.3 181.8,443.3 182.9,443.4 183.9,443.4 185.0,443.5 186.1,443.5 187.2,443.6 188.3,443.6 189.4,443.7 190.5,443.7 191.6,443.8 192.7,443.8 193.7,443.9 194.8,443.9 195.9,443.9 197.0,444.0 198.1,444.0 199.2,444.1 200.3,444.1 201.4,444.1 202.5,444.1 203.6,444.2 204.6,444.2 205.7,444.2 206.8,444.3 207.9,444.3 209.0,444.3 210.1,444.3 211.2,444.4 212.3,444.4 213.4,444.4 214.4,444.4 215.5,444.4 216.6,444.5 217.7,444.5 218.8,444.5 219.9,444.5 221.0,444.5 222.1,444.6 223.2,444.6 224.3,444.6 225.3,444.6 226.4,444.6 227.5,444.6 228.6,444.6" fill="none" stroke="#333333" stroke-width="0.9" stroke-linejoin="round"/>
<polyline points="32.5,356.3 33.6,355.0 34.7,354.3 35.8,352.6 36.9,352.6 37.9,351.2 39.0,351.6 40.1,351.0 41.2,351.3 42.3,351.8 43.4,352.2 44.5,352.5 45.6,352.4 46.7,353.5 47.8,354.5 48.8,355.0 49.9,356.6 51.0,357.8 52.1,358.7 53.2,359.2 54.3,360.9 55.4,362.1 56.5,363.4 57.6,365.0 58.6,365.9 59.7,367.5 60.8,369.5 61.9,371.1 63.0,372.3 64.1,374.1 65.2,375.4 66.3,376.7 67.4,378.5 68.5,380.1 69.5,381.9 70.6,383.5 71.7,385.1 72.8,385.9 73.9,388.1 75.0,389.4 76.1,390.9 77.2,392.3 78.3,394.0 79.3,395.8 80.4,396.0 81.5,398.5 82.6,399.3 83.7,401.2 84.8,401.9 85.9,403.8 87.0,404.2 88.1,405.8 89.2,407.7 90.2,408.3 91.3,409.5 92.4,410.6 93.5,411.7 94.6,412.8 95.7,413.8 96.8,414.8 97.9,415.8 99.0,416.8 100.0,417.7 101.1,418.6 102.2,419.5 103.3,420.3 104.4,421.2 105.5,422.0 106.6,422.8 107.7,423.5 108.8,424.2 109.9,424.9 110.9,425.6 112.0,426.3 113.1,426.9 114.2,427.6 115.3,428.2 116.4,428.8 117.5,429.3 118.6,429.9 119.7,430.4 120.7,430.9 121.8,431.4 122.9,431.9 124.0,432.3 125.1,432.8 126.2,433.2 127.3,433.6 128.4,434.0 129.5,434.4 130.6,434.8 131.6,435.1 132.7,435.5 133.8,435.8 134.9,436.1 136.0,436.5 137.1,436.8 138.2,437.0 139.3,437.3 140.4,437.6 141.4,437.9 142.5,438.1 143.6,438.4 144.7,438.6 145.8,438.8 146.9,439.0 148.0,439.2 149.1,439.4 150.2,439.6 151.3,439.8 152.3,440.0 153.4,440.2 154.5,440.4 155.6,440.5 156.7,440.7 157.8,440.8 158.9,441.0 160.0,441.1 161.1,441.2 162.2,441.4 163.2,441.5 164.3,441.6 165.4,441.7 166.5,441.9 167.6,442.0 168.7,442.1 169.8,442.2 170.9,442.3 172.0,442.4 173.0,442.5 174.1,442.5 175.2,442.6 176.3,442.7 177.4,442.8 178.5,442.9 179.6,442.9 180.7,443.0 181.8,443.1 182.9,443.1 183.9,443.2 185.0,443.3 186.1,443.3 187.2,443.4 188.3,443.4 189.4,443.5 190.5,443.5 191.6,443.6 192.7,443.6 193.7,443.7 194.8,443.7 195.9,443.8 197.0,443.8 198.1,443.9 199.2,443.9 200.3,443.9 201.4,444.0 202.5,444.0 203.6,444.0 204.6,444.1 205.7,444.1 206.8,444.1 207.9,444.2 209.0,444.2 210.1,444.2 211.2,444.3 212.3,444.3 213.4,444.3 214.4,444.3 215.5,444.3 216.6,444.4 217.7,444.4 218.8,444.4 219.9,444.4 221.0,444.5 222.1,444.5 223.2,444.5 224.3,444.5 225.3,444.5 226.4,444.5 227.5,444.6 228.6,444.6" fill="none" stroke="#8000ff" stroke-width="0.9" stroke-linejoin="round"/>
<polyline points="32.5,350.7 33.6,349.5 34.7,347.7 35.8,345.6 36.9,345.9 37.9,344.8 39.0,344.3 40.1,345.0 41.2,345.2 42.3,345.1 43.4,345.4 44.5,346.6 45.6,347.0 46.7,346.9 47.8,348.5 48.8,349.1 49.9,349.9 51.0,351.4 52.1,352.6 53.2,353.9 54.3,355.3 55.4,356.6 56.5,358.4 57.6,359.5 58.6,360.9 59.7,362.2 60.8,364.1 61.9,365.8 63.0,366.6 64.1,368.9 65.2,370.6 66.3,372.4 67.4,373.9 68.5,375.8 69.5,377.4 70.6,379.1 71.7,380.9 72.8,382.3 73.9,384.2 75.0,384.9 76.1,387.4 77.2,388.0 78.3,390.0 79.3,391.4 80.4,392.7 81.5,395.2 82.6,395.6 83.7,397.4 84.8,399.1 85.9,400.6 87.0,401.6 88.1,403.5 89.2,403.7 90.2,405.6 91.3,406.8 92.4,408.0 93.5,409.2 94.6,410.3 95.7,411.4 96.8,412.5 97.9,413.6 99.0,414.6 100.0,415.6 101.1,416.6 102.2,417.5 103.3,418.4 104.4,419.3 105.5,420.2 106.6,421.0 107.7,421.8 108.8,422.6 109.9,423.4 110.9,424.1 112.0,424.8 113.1,425.5 114.2,426.2 115.3,426.8 116.4,427.4 117.5,428.1 118.6,428.6 119.7,429.2 120.7,429.8 121.8,430.3 122.9,430.8 124.0,431.3 125.1,431.8 126.2,432.2 127.3,432.7 128.4,433.1 129.5,433.5 130.6,433.9 131.6,434.3 132.7,434.7 133.8,435.1 134.9,435.4 136.0,435.7 137.1,436.1 138.2,436.4 139.3,436.7 140.4,437.0 141.4,437.3 142.5,437.5 143.6,437.8 144.7,438.0 145.8,438.3 146.9,438.5 148.0,438.7 149.1,439.0 150.2,439.2 151.3,439.4 152.3,439.6 153.4,439.8 154.5,439.9 155.6,440.1 156.7,440.3 157.8,440.5 158.9,440.6 160.0,440.8 161.1,440.9 162.2,441.1 163.2,441.2 164.3,441.3 165.4,441.4 166.5,441.6 167.6,441.7 168.7,441.8 169.8,441.9 170.9,442.0 172.0,442.1 173.0,442.2 174.1,442.3 175.2,442.4 176.3,442.5 177.4,442.6 178.5,442.7 179.6,442.7 180.7,442.8 181.8,442.9 182.9,443.0 183.9,443.0 185.0,443.1 186.1,443.2 187.2,443.2 188.3,443.3 189.4,443.4 190.5,443.4 191.6,443.5 192.7,443.5 193.7,443.6 194.8,443.6 195.9,443.7 197.0,443.7 198.1,443.7 199.2,443.8 200.3,443.8 201.4,443.9 202.5,443.9 203.6,443.9 204.6,444.0 205.7,444.0 206.8,444.1 207.9,444.1 209.0,444.1 210.1,444.1 211.2,444.2 212.3,444.2 213.4,444.2 214.4,444.3 215.5,444.3 216.6,444.3 217.7,444.3 218.8,444.4 219.9,444.4 221.0,444.4 222.1,444.4 223.2,444.4 224.3,444.5 225.3,444.5 226.4,444.5 227.5,444.5 228.6,444.5" fill="none" stroke="#a000c0" stroke-width="0.9" stroke-linejoin="round"/>
<polyline points="32.5,346.3 33.6,344.4 34.7,343.1 35.8,341.9 36.9,341.4 37.9,340.8 39.0,340.5 40.1,340.9 41.2,340.4 42.3,341.1 43.4,341.5 44.5,341.9 45.6,341.8 46.7,343.4 47.8,343.6 48.8,345.7 49.9,346.2 51.0,346.6 52.1,348.4 53.2,349.6 54.3,351.3 55.4,353.1 56.5,353.9 57.6,355.3 58.6,356.8 59.7,358.1 60.8,360.4 61.9,361.9 63.0,364.4 64.1,365.5 65.2,367.1 66.3,368.5 67.4,370.0 68.5,371.9 69.5,374.0 70.6,375.9 71.7,377.6 72.8,379.3 73.9,380.9 75.0,382.3 76.1,384.4 77.2,386.5 78.3,387.9 79.3,388.2 80.4,390.3 81.5,392.4 82.6,393.9 83.7,395.1 84.8,396.7 85.9,398.1 87.0,400.2 88.1,401.4 89.2,402.3 90.2,403.7 91.3,404.9 92.4,406.2 93.5,407.4 94.6,408.6 95.7,409.8 96.8,410.9 97.9,412.0 99.0,413.1 100.0,414.1 101.1,415.1 102.2,416.1 103.3,417.1 104.4,418.0 105.5,418.9 106.6,419.8 107.7,420.6 108.8,421.5 109.9,422.3 110.9,423.0 112.0,423.8 113.1,424.5 114.2,425.2 115.3,425.9 116.4,426.5 117.5,427.2 118.6,427.8 119.7,428.4 120.7,429.0 121.8,429.5 122.9,430.0 124.0,430.6 125.1,431.1 126.2,431.6 127.3,432.0 128.4,432.5 129.5,432.9 130.6,433.3 131.6,433.7 132.7,434.1 133.8,434.5 134.9,434.9 136.0,435.2 137.1,435.6 138.2,435.9 139.3,436.2 140.4,436.5 141.4,436.8 142.5,437.1 143.6,437.4 144.7,437.6 145.8,437.9 146.9,438.2 148.0,438.4 149.1,438.6 150.2,438.8 151.3,439.1 152.3,439.3 153.4,439.5 154.5,439.7 155.6,439.8 156.7,440.0 157.8,440.2 158.9,440.4 160.0,440.5 161.1,440.7 162.2,440.8 163.2,441.0 164.3,441.1 165.4,441.2 166.5,441.4 167.6,441.5 168.7,441.6 169.8,441.7 170.9,441.8 172.0,442.0 173.0,442.1 174.1,442.2 175.2,442.3 176.3,442.3 177.4,442.4 178.5,442.5 179.6,442.6 180.7,442.7 181.8,442.8 182.9,442.8 183.9,442.9 185.0,443.0 186.1,443.1 187.2,443.1 188.3,443.2 189.4,443.2 190.5,443.3 191.6,443.4 192.7,443.4 193.7,443.5 194.8,443.5 195.9,443.6 197.0,443.6 198.1,443.7 199.2,443.7 200.3,443.8 201.4,443.8 202.5,443.8 203.6,443.9 204.6,443.9 205.7,444.0 206.8,444.0 207.9,444.0 209.0,444.1 210.1,444.1 211.2,444.1 212.3,444.1 213.4,444.2 214.4,444.2 215.5,444.2 216.6,444.3 217.7,444.3 218.8,444.3 219.9,444.3 221.0,444.4 222.1,444.4 223.2,444.4 224.3,444.4 225.3,444.4 226.4,444.5 227.5,444.5 228.6,444.5" fill="none" stroke="#ff8000" stroke-width="0.9" stroke-linejoin="round"/>
<polyline points="32.5,336.7 33.6,334.6 34.7,333.0 35.8,331.4 36.9,331.2 37.9,330.8 39.0,330.1 40.1,330.1 41.2,330.2 42.3,330.5 43.4,330.8 44.5,331.7 45.6,332.2 46.7,332.8 47.8,334.0 48.8,334.9 49.9,336.4 51.0,337.2 52.1,338.8 53.2,340.4 54.3,341.7 55.4,343.3 56.5,344.9 57.6,346.7 58.6,347.7 59.7,349.7 60.8,351.6 61.9,353.4 63.0,355.4 64.1,357.0 65.2,359.2 66.3,361.1 67.4,363.2 68.5,364.4 69.5,366.3 70.6,368.3 71.7,370.1 72.8,373.1 73.9,374.2 75.0,375.7 76.1,377.7 77.2,380.1 78.3,381.3 79.3,383.0 80.4,385.1 81.5,387.0 82.6,388.5 83.7,390.8 84.8,391.4 85.9,393.4 87.0,394.8 88.1,396.2 89.2,397.7 90.2,398.6 91.3,400.5 92.4,401.9 93.5,403.2 94.6,404.5 95.7,405.8 96.8,407.1 97.9,408.3 99.0,409.5 100.0,410.6 101.1,411.7 102.2,412.8 103.3,413.9 104.4,414.9 105.5,415.9 106.6,416.9 107.7,417.8 108.8,418.7 109.9,419.6 110.9,420.4 112.0,421.3 113.1,422.1 114.2,422.8 115.3,423.6 116.4,424.3 117.5,425.0 118.6,425.7 119.7,426.4 120.7,427.0 121.8,427.6 122.9,428.2 124.0,428.8 125.1,429.4 126.2,429.9 127.3,430.4 128.4,430.9 129.5,431.4 130.6,431.9 131.6,432.3 132.7,432.8 133.8,433.2 134.9,433.6 136.0,434.0 137.1,434.4 138.2,434.8 139.3,435.1 140.4,435.4 141.4,435.8 142.5,436.1 143.6,436.4 144.7,436.7 145.8,437.0 146.9,437.3 148.0,437.5 149.1,437.8 150.2,438.0 151.3,438.3 152.3,438.5 153.4,438.7 154.5,439.0 155.6,439.2 156.7,439.4 157.8,439.6 158.9,439.7 160.0,439.9 161.1,440.1 162.2,440.3 163.2,440.4 164.3,440.6 165.4,440.7 166.5,440.9 167.6,441.0 168.7,441.2 169.8,441.3 170.9,441.4 172.0,441.5 173.0,441.7 174.1,441.8 175.2,441.9 176.3,442.0 177.4,442.1 178.5,442.2 179.6,442.3 180.7,442.4 181.8,442.5 182.9,442.5 183.9,442.6 185.0,442.7 186.1,442.8 187.2,442.9 188.3,442.9 189.4,443.0 190.5,443.1 191.6,443.1 192.7,443.2 193.7,443.3 194.8,443.3 195.9,443.4 197.0,443.4 198.1,443.5 199.2,443.5 200.3,443.6 201.4,443.6 202.5,443.7 203.6,443.7 204.6,443.8 205.7,443.8 206.8,443.8 207.9,443.9 209.0,443.9 210.1,443.9 211.2,444.0 212.3,444.0 213.4,444.0 214.4,444.1 215.5,444.1 216.6,444.1 217.7,444.2 218.8,444.2 219.9,444.2 221.0,444.2 222.1,444.3 223.2,444.3 224.3,444.3 225.3,444.3 226.4,444.4 227.5,444.4 228.6,444.4" fill="none" stroke="#0000ff" stroke-width="0.9" stroke-linejoin="round"/>
<polyline points="32.5,333.1 33.6,331.4 34.7,330.2 35.8,329.2 36.9,327.5 37.9,327.6 39.0,326.7 40.1,326.9 41.2,326.6 42.3,327.4 43.4,327.9 44.5,329.0 45.6,328.9 46.7,330.0 47.8,331.1 48.8,332.1 49.9,332.8 51.0,334.3 52.1,335.5 53.2,337.3 54.3,338.6 55.4,340.0 56.5,342.1 57.6,343.3 58.6,345.5 59.7,346.6 60.8,349.2 61.9,351.1 63.0,352.8 64.1,354.8 65.2,356.7 66.3,358.6 67.4,360.1 68.5,362.6 69.5,364.0 70.6,366.0 71.7,368.2 72.8,370.2 73.9,371.5 75.0,374.7 76.1,376.0 77.2,377.7 78.3,379.3 79.3,381.3 80.4,382.8 81.5,384.6 82.6,386.2 83.7,388.4 84.8,389.7 85.9,390.9 87.0,393.2 88.1,394.5 89.2,396.6 90.2,397.5 91.3,399.1 92.4,400.5 93.5,401.9 94.6,403.3 95.7,404.6 96.8,405.9 97.9,407.1 99.0,408.3 100.0,409.5 101.1,410.7 102.2,411.8 103.3,412.9 104.4,413.9 105.5,414.9 106.6,415.9 107.7,416.9 108.8,417.8 109.9,418.8 110.9,419.6 112.0,420.5 113.1,421.3 114.2,422.1 115.3,422.9 116.4,423.6 117.5,424.4 118.6,425.1 119.7,425.7 120.7,426.4 121.8,427.0 122.9,427.7 124.0,428.3 125.1,428.8 126.2,429.4 127.3,429.9 128.4,430.4 129.5,430.9 130.6,431.4 131.6,431.9 132.7,432.3 133.8,432.8 134.9,433.2 136.0,433.6 137.1,434.0 138.2,434.4 139.3,434.8 140.4,435.1 141.4,435.5 142.5,435.8 143.6,436.1 144.7,436.4 145.8,436.7 146.9,437.0 148.0,437.3 149.1,437.5 150.2,437.8 151.3,438.0 152.3,438.3 153.4,438.5 154.5,438.7 155.6,438.9 156.7,439.2 157.8,439.4 158.9,439.5 160.0,439.7 161.1,439.9 162.2,440.1 163.2,440.3 164.3,440.4 165.4,440.6 166.5,440.7 167.6,440.9 168.7,441.0 169.8,441.1 170.9,441.3 172.0,441.4 173.0,441.5 174.1,441.6 175.2,441.8 176.3,441.9 177.4,442.0 178.5,442.1 179.6,442.2 180.7,442.3 181.8,442.4 182.9,442.4 183.9,442.5 185.0,442.6 186.1,442.7 187.2,442.8 188.3,442.8 189.4,442.9 190.5,443.0 191.6,443.1 192.7,443.1 193.7,443.2 194.8,443.2 195.9,443.3 197.0,443.4 198.1,443.4 199.2,443.5 200.3,443.5 201.4,443.6 202.5,443.6 203.6,443.7 204.6,443.7 205.7,443.7 206.8,443.8 207.9,443.8 209.0,443.9 210.1,443.9 211.2,443.9 212.3,444.0 213.4,444.0 214.4,444.0 215.5,444.1 216.6,444.1 217.7,444.1 218.8,444.2 219.9,444.2 221.0,444.2 222.1,444.2 223.2,444.3 224.3,444.3 225.3,444.3 226.4,444.3 227.5,444.4 228.6,444.4" fill="none" stroke="#00a000" stroke-width="0.9" stroke-linejoin="round"/>
<polyline points="32.5,330.5 33.6,328.9 34.7,327.5 35.8,326.1 36.9,325.6 37.9,324.9 39.0,324.2 40.1,324.8 41.2,324.3 42.3,324.7 43.4,325.1 44.5,325.7 45.6,326.6 46.7,326.6 47.8,328.9 48.8,329.6 49.9,331.1 51.0,331.7 52.1,333.0 53.2,334.1 54.3,336.5 55.4,337.7 56.5,339.9 57.6,341.3 58.6,342.9 59.7,345.4 60.8,346.8 61.9,348.9 63.0,350.5 64.1,352.3 65.2,355.0 66.3,356.5 67.4,358.9 68.5,361.2 69.5,362.8 70.6,364.6 71.7,366.8 72.8,368.7 73.9,369.9 75.0,372.2 76.1,373.8 77.2,375.6 78.3,377.8 79.3,378.9 80.4,381.4 81.5,383.3 82.6,385.3 83.7,386.9 84.8,388.3 85.9,390.1 87.0,391.7 88.1,393.2 89.2,395.3 90.2,396.7 91.3,397.9 92.4,399.3 93.5,400.8 94.6,402.1 95.7,403.5 96.8,404.8 97.9,406.1 99.0,407.3 100.0,408.5 101.1,409.7 102.2,410.9 103.3,412.0 104.4,413.1 105.5,414.1 106.6,415.1 107.7,416.1 108.8,417.1 109.9,418.0 110.9,418.9 112.0,419.8 113.1,420.6 114.2,421.5 115.3,422.3 116.4,423.0 117.5,423.8 118.6,424.5 119.7,425.2 120.7,425.9 121.8,426.5 122.9,427.2 124.0,427.8 125.1,428.4 126.2,428.9 127.3,429.5 128.4,430.0 129.5,430.5 130.6,431.0 131.6,431.5 132.7,432.0 133.8,432.4 134.9,432.9 136.0,433.3 137.1,433.7 138.2,434.1 139.3,434.4 140.4,434.8 141.4,435.2 142.5,435.5 143.6,435.8 144.7,436.1 145.8,436.4 146.9,436.7 148.0,437.0 149.1,437.3 150.2,437.6 151.3,437.8 152.3,438.1 153.4,438.3 154.5,438.5 155.6,438.8 156.7,439.0 157.8,439.2 158.9,439.4 160.0,439.6 161.1,439.8 162.2,439.9 163.2,440.1 164.3,440.3 165.4,440.4 166.5,440.6 167.6,440.7 168.7,440.9 169.8,441.0 170.9,441.2 172.0,441.3 173.0,441.4 174.1,441.5 175.2,441.6 176.3,441.8 177.4,441.9 178.5,442.0 179.6,442.1 180.7,442.2 181.8,442.3 182.9,442.4 183.9,442.4 185.0,442.5 186.1,442.6 187.2,442.7 188.3,442.8 189.4,442.8 190.5,442.9 191.6,443.0 192.7,443.1 193.7,443.1 194.8,443.2 195.9,443.2 197.0,443.3 198.1,443.4 199.2,443.4 200.3,443.5 201.4,443.5 202.5,443.6 203.6,443.6 204.6,443.7 205.7,443.7 206.8,443.7 207.9,443.8 209.0,443.8 210.1,443.9 211.2,443.9 212.3,443.9 213.4,444.0 214.4,444.0 215.5,444.0 216.6,444.1 217.7,444.1 218.8,444.1 219.9,444.2 221.0,444.2 222.1,444.2 223.2,444.2 224.3,444.3 225.3,444.3 226.4,444.3 227.5,444.3 228.6,444.4" fill="none" stroke="#ff0080" stroke-width="0.9" stroke-linejoin="round"/>
<polyline points="32.5,327.3 33.6,324.3 34.7,323.5 35.8,322.3 36.9,321.0 37.9,320.5 39.0,320.2 40.1,319.7 41.2,319.5 42.3,320.4 43.4,320.7 44.5,321.3 45.6,322.0 46.7,323.4 47.8,323.5 48.8,325.6 49.9,326.6 51.0,327.0 52.1,329.2 53.2,331.0 54.3,332.2 55.4,333.2 56.5,335.6 57.6,337.8 58.6,339.2 59.7,341.1 60.8,343.4 61.9,345.0 63.0,347.8 64.1,348.9 65.2,351.0 66.3,353.1 67.4,355.4 68.5,356.8 69.5,359.0 70.6,360.9 71.7,363.5 72.8,365.1 73.9,366.8 75.0,368.9 76.1,371.6 77.2,373.3 78.3,375.4 79.3,377.2 80.4,379.0 81.5,380.3 82.6,382.1 83.7,384.5 84.8,385.9 85.9,388.1 87.0,390.0 88.1,391.8 89.2,393.1 90.2,393.8 91.3,396.0 92.4,397.5 93.5,398.9 94.6,400.4 95.7,401.8 96.8,403.1 97.9,404.5 99.0,405.7 100.0,407.0 101.1,408.2 102.2,409.4 103.3,410.6 104.4,411.7 105.5,412.8 106.6,413.8 107.7,414.9 108.8,415.9 109.9,416.8 110.9,417.8 112.0,418.7 113.1,419.6 114.2,420.4 115.3,421.3 116.4,422.1 117.5,422.8 118.6,423.6 119.7,424.3 120.7,425.0 121.8,425.7 122.9,426.3 124.0,427.0 125.1,427.6 126.2,428.2 127.3,428.8 128.4,429.3 129.5,429.9 130.6,430.4 131.6,430.9 132.7,431.4 133.8,431.8 134.9,432.3 136.0,432.7 137.1,433.1 138.2,433.6 139.3,433.9 140.4,434.3 141.4,434.7 142.5,435.0 143.6,435.4 144.7,435.7 145.8,436.0 146.9,436.3 148.0,436.6 149.1,436.9 150.2,437.2 151.3,437.5 152.3,437.7 153.4,438.0 154.5,438.2 155.6,438.4 156.7,438.7 157.8,438.9 158.9,439.1 160.0,439.3 161.1,439.5 162.2,439.7 163.2,439.9 164.3,440.0 165.4,440.2 166.5,440.4 167.6,440.5 168.7,440.7 169.8,440.8 170.9,441.0 172.0,441.1 173.0,441.2 174.1,441.4 175.2,441.5 176.3,441.6 177.4,441.7 178.5,441.8 179.6,441.9 180.7,442.0 181.8,442.1 182.9,442.2 183.9,442.3 185.0,442.4 186.1,442.5 187.2,442.6 188.3,442.7 189.4,442.7 190.5,442.8 191.6,442.9 192.7,442.9 193.7,443.0 194.8,443.1 195.9,443.1 197.0,443.2 198.1,443.3 199.2,443.3 200.3,443.4 201.4,443.4 202.5,443.5 203.6,443.5 204.6,443.6 205.7,443.6 206.8,443.7 207.9,443.7 209.0,443.8 210.1,443.8 211.2,443.8 212.3,443.9 213.4,443.9 214.4,443.9 215.5,444.0 216.6,444.0 217.7,444.0 218.8,444.1 219.9,444.1 221.0,444.1 222.1,444.2 223.2,444.2 224.3,444.2 225.3,444.2 226.4,444.3 227.5,444.3 228.6,444.3" fill="none" stroke="#ff00ff" stroke-width="0.9" stroke-linejoin="round"/>
<polyline points="32.5,324.2 33.6,322.6 34.7,321.4 35.8,319.8 36.9,318.0 37.9,317.9 39.0,317.8 40.1,317.6 41.2,318.0 42.3,317.7 43.4,318.9 44.5,318.8 45.6,319.5 46.7,320.4 47.8,321.7 48.8,323.0 49.9,324.1 51.0,325.4 52.1,326.7 53.2,328.5 54.3,330.0 55.4,331.9 56.5,333.8 57.6,335.0 58.6,337.1 59.7,338.9 60.8,340.6 61.9,343.3 63.0,345.3 64.1,347.3 65.2,348.9 66.3,351.8 67.4,353.6 68.5,355.2 69.5,358.0 70.6,359.4 71.7,361.2 72.8,363.6 73.9,366.1 75.0,368.0 76.1,370.1 77.2,371.8 78.3,373.5 79.3,375.4 80.4,378.3 81.5,379.7 82.6,381.2 83.7,383.3 84.8,385.7 85.9,386.6 87.0,388.2 88.1,390.1 89.2,391.7 90.2,393.0 91.3,394.9 92.4,396.4 93.5,397.9 94.6,399.4 95.7,400.8 96.8,402.2 97.9,403.6 99.0,404.9 100.0,406.2 101.1,407.4 102.2,408.6 103.3,409.8 104.4,410.9 105.5,412.1 106.6,413.1 107.7,414.2 108.8,415.2 109.9,416.2 110.9,417.2 112.0,418.1 113.1,419.0 114.2,419.9 115.3,420.7 116.4,421.5 117.5,422.3 118.6,423.1 119.7,423.8 120.7,424.5 121.8,425.2 122.9,425.9 124.0,426.6 125.1,427.2 126.2,427.8 127.3,428.4 128.4,428.9 129.5,429.5 130.6,430.0 131.6,430.5 132.7,431.0 133.8,431.5 134.9,432.0 136.0,432.4 137.1,432.9 138.2,433.3 139.3,433.7 140.4,434.1 141.4,434.4 142.5,434.8 143.6,435.1 144.7,435.5 145.8,435.8 146.9,436.1 148.0,436.4 149.1,436.7 150.2,437.0 151.3,437.3 152.3,437.5 153.4,437.8 154.5,438.0 155.6,438.3 156.7,438.5 157.8,438.7 158.9,438.9 160.0,439.1 161.1,439.3 162.2,439.5 163.2,439.7 164.3,439.9 165.4,440.1 166.5,440.2 167.6,440.4 168.7,440.6 169.8,440.7 170.9,440.9 172.0,441.0 173.0,441.1 174.1,441.3 175.2,441.4 176.3,441.5 177.4,441.6 178.5,441.7 179.6,441.8 180.7,441.9 181.8,442.0 182.9,442.1 183.9,442.2 185.0,442.3 186.1,442.4 187.2,442.5 188.3,442.6 189.4,442.7 190.5,442.7 191.6,442.8 192.7,442.9 193.7,443.0 194.8,443.0 195.9,443.1 197.0,443.2 198.1,443.2 199.2,443.3 200.3,443.3 201.4,443.4 202.5,443.4 203.6,443.5 204.6,443.5 205.7,443.6 206.8,443.6 207.9,443.7 209.0,443.7 210.1,443.8 211.2,443.8 212.3,443.8 213.4,443.9 214.4,443.9 215.5,443.9 216.6,444.0 217.7,444.0 218.8,444.0 219.9,444.1 221.0,444.1 222.1,444.1 223.2,444.2 224.3,444.2 225.3,444.2 226.4,444.2 227.5,444.3 228.6,444.3" fill="none" stroke="#800000" stroke-width="0.9" stroke-linejoin="round"/>
<polyline points="32.5,323.3 33.6,321.3 34.7,320.0 35.8,318.7 36.9,317.4 37.9,316.7 39.0,315.7 40.1,315.8 41.2,316.2 42.3,316.9 43.4,317.4 44.5,318.5 45.6,318.6 46.7,319.6 47.8,320.7 48.8,321.4 49.9,322.5 51.0,324.9 52.1,325.7 53.2,327.2 54.3,329.2 55.4,330.9 56.5,331.9 57.6,334.1 58.6,335.5 59.7,338.4 60.8,340.4 61.9,342.2 63.0,343.9 64.1,345.8 65.2,347.6 66.3,350.6 67.4,352.9 68.5,354.2 69.5,356.4 70.6,358.6 71.7,360.4 72.8,363.2 73.9,365.5 75.0,366.4 76.1,369.0 77.2,371.2 78.3,372.8 79.3,374.3 80.4,376.9 81.5,378.3 82.6,380.6 83.7,381.9 84.8,384.2 85.9,385.7 87.0,387.8 88.1,389.3 89.2,391.1 90.2,392.9 91.3,394.4 92.4,395.9 93.5,397.4 94.6,398.9 95.7,400.3 96.8,401.7 97.9,403.1 99.0,404.4 100.0,405.7 101.1,407.0 102.2,408.2 103.3,409.4 104.4,410.6 105.5,411.7 106.6,412.8 107.7,413.8 108.8,414.9 109.9,415.9 110.9,416.8 112.0,417.8 113.1,418.7 114.2,419.6 115.3,420.4 116.4,421.3 117.5,422.1 118.6,422.8 119.7,423.6 120.7,424.3 121.8,425.0 122.9,425.7 124.0,426.3 125.1,427.0 126.2,427.6 127.3,428.2 128.4,428.8 129.5,429.3 130.6,429.9 131.6,430.4 132.7,430.9 133.8,431.4 134.9,431.8 136.0,432.3 137.1,432.7 138.2,433.1 139.3,433.5 140.4,433.9 141.4,434.3 142.5,434.7 143.6,435.0 144.7,435.4 145.8,435.7 146.9,436.0 148.0,436.3 149.1,436.6 150.2,436.9 151.3,437.2 152.3,437.5 153.4,437.7 154.5,438.0 155.6,438.2 156.7,438.4 157.8,438.7 158.9,438.9 160.0,439.1 161.1,439.3 162.2,439.5 163.2,439.7 164.3,439.8 165.4,440.0 166.5,440.2 167.6,440.3 168.7,440.5 169.8,440.7 170.9,440.8 172.0,440.9 173.0,441.1 174.1,441.2 175.2,441.3 176.3,441.5 177.4,441.6 178.5,441.7 179.6,441.8 180.7,441.9 181.8,442.0 182.9,442.1 183.9,442.2 185.0,442.3 186.1,442.4 187.2,442.5 188.3,442.6 189.4,442.6 190.5,442.7 191.6,442.8 192.7,442.9 193.7,442.9 194.8,443.0 195.9,443.1 197.0,443.1 198.1,443.2 199.2,443.2 200.3,443.3 201.4,443.4 202.5,443.4 203.6,443.5 204.6,443.5 205.7,443.6 206.8,443.6 207.9,443.7 209.0,443.7 210.1,443.7 211.2,443.8 212.3,443.8 213.4,443.9 214.4,443.9 215.5,443.9 216.6,444.0 217.7,444.0 218.8,444.0 219.9,444.1 221.0,444.1 222.1,444.1 223.2,444.2 224.3,444.2 225.3,444.2 226.4,444.2 227.5,444.3 228.6,444.3" fill="none" stroke="#8000ff" stroke-width="0.9" stroke-linejoin="round"/>
<polyline points="32.5,322.3 33.6,320.1 34.7,318.6 35.8,317.2 36.9,315.9 37.9,315.4 39.0,314.4 40.1,314.6 41.2,314.9 42.3,315.6 43.4,315.7 44.5,316.5 45.6,317.2 46.7,318.3 47.8,319.7 48.8,320.8 49.9,321.8 51.0,322.9 52.1,324.7 53.2,326.4 54.3,327.9 55.4,329.4 56.5,331.5 57.6,333.4 58.6,335.1 59.7,336.9 60.8,339.5 61.9,341.2 63.0,343.2 64.1,345.4 65.2,347.2 66.3,349.2 67.4,351.8 68.5,352.9 69.5,355.7 70.6,357.4 71.7,359.8 72.8,362.7 73.9,364.6 75.0,366.2 76.1,368.1 77.2,370.1 78.3,372.9 79.3,374.5 80.4,376.1 81.5,377.7 82.6,379.8 83.7,382.3 84.8,383.9 85.9,385.6 87.0,387.3 88.1,388.6 89.2,390.2 90.2,391.8 91.3,393.8 92.4,395.4 93.5,396.9 94.6,398.4 95.7,399.9 96.8,401.3 97.9,402.7 99.0,404.0 100.0,405.3 101.1,406.6 102.2,407.8 103.3,409.0 104.4,410.2 105.5,411.3 106.6,412.4 107.7,413.5 108.8,414.5 109.9,415.6 110.9,416.5 112.0,417.5 113.1,418.4 114.2,419.3 115.3,420.1 116.4,421.0 117.5,421.8 118.6,422.6 119.7,423.3 120.7,424.1 121.8,424.8 122.9,425.5 124.0,426.1 125.1,426.8 126.2,427.4 127.3,428.0 128.4,428.6 129.5,429.1 130.6,429.7 131.6,430.2 132.7,430.7 133.8,431.2 134.9,431.7 136.0,432.1 137.1,432.6 138.2,433.0 139.3,433.4 140.4,433.8 141.4,434.2 142.5,434.5 143.6,434.9 144.7,435.3 145.8,435.6 146.9,435.9 148.0,436.2 149.1,436.5 150.2,436.8 151.3,437.1 152.3,437.4 153.4,437.6 154.5,437.9 155.6,438.1 156.7,438.3 157.8,438.6 158.9,438.8 160.0,439.0 161.1,439.2 162.2,439.4 163.2,439.6 164.3,439.8 165.4,439.9 166.5,440.1 167.6,440.3 168.7,440.4 169.8,440.6 170.9,440.7 172.0,440.9 173.0,441.0 174.1,441.2 175.2,441.3 176.3,441.4 177.4,441.5 178.5,441.6 179.6,441.8 180.7,441.9 181.8,442.0 182.9,442.1 183.9,442.2 185.0,442.3 186.1,442.3 187.2,442.4 188.3,442.5 189.4,442.6 190.5,442.7 191.6,442.8 192.7,442.8 193.7,442.9 194.8,443.0 195.9,443.0 197.0,443.1 198.1,443.2 199.2,443.2 200.3,443.3 201.4,443.3 202.5,443.4 203.6,443.4 204.6,443.5 205.7,443.5 206.8,443.6 207.9,443.6 209.0,443.7 210.1,443.7 211.2,443.8 212.3,443.8 213.4,443.8 214.4,443.9 215.5,443.9 216.6,444.0 217.7,444.0 218.8,444.0 219.9,444.1 221.0,444.1 222.1,444.1 223.2,444.1 224.3,444.2 225.3,444.2 226.4,444.2 227.5,444.2 228.6,444.3" fill="none" stroke="#000080" stroke-width="0.9" stroke-linejoin="round"/>
<polyline points="32.5,320.9 33.6,318.1 34.7,316.4 35.8,316.2 36.9,314.6 37.9,314.3 39.0,314.2 40.1,313.7 41.2,313.5 42.3,313.8 43.4,314.4 44.5,314.7 45.6,316.1 46.7,316.9 47.8,317.4 48.8,318.8 49.9,320.6 51.0,322.1 52.1,323.2 53.2,324.7 54.3,326.3 55.4,328.2 56.5,329.9 57.6,332.1 58.6,333.8 59.7,336.0 60.8,338.2 61.9,339.8 63.0,342.1 64.1,344.2 65.2,345.9 66.3,348.1 67.4,349.8 68.5,352.0 69.5,354.8 70.6,356.9 71.7,359.1 72.8,361.5 73.9,362.6 75.0,365.0 76.1,367.5 77.2,368.8 78.3,371.1 79.3,373.1 80.4,375.5 81.5,378.0 82.6,378.9 83.7,381.3 84.8,383.3 85.9,384.5 87.0,386.2 88.1,388.5 89.2,389.9 90.2,391.4 91.3,393.1 92.4,394.7 93.5,396.2 94.6,397.8 95.7,399.2 96.8,400.7 97.9,402.1 99.0,403.4 100.0,404.7 101.1,406.0 102.2,407.3 103.3,408.5 104.4,409.7 105.5,410.8 106.6,412.0 107.7,413.0 108.8,414.1 109.9,415.1 110.9,416.1 112.0,417.1 113.1,418.0 114.2,418.9 115.3,419.8 116.4,420.6 117.5,421.4 118.6,422.2 119.7,423.0 120.7,423.7 121.8,424.5 122.9,425.2 124.0,425.8 125.1,426.5 126.2,427.1 127.3,427.7 128.4,428.3 129.5,428.9 130.6,429.4 131.6,430.0 132.7,430.5 133.8,431.0 134.9,431.5 136.0,431.9 137.1,432.4 138.2,432.8 139.3,433.2 140.4,433.6 141.4,434.0 142.5,434.4 143.6,434.7 144.7,435.1 145.8,435.4 146.9,435.8 148.0,436.1 149.1,436.4 150.2,436.7 151.3,437.0 152.3,437.2 153.4,437.5 154.5,437.7 155.6,438.0 156.7,438.2 157.8,438.5 158.9,438.7 160.0,438.9 161.1,439.1 162.2,439.3 163.2,439.5 164.3,439.7 165.4,439.9 166.5,440.0 167.6,440.2 168.7,440.4 169.8,440.5 170.9,440.7 172.0,440.8 173.0,441.0 174.1,441.1 175.2,441.2 176.3,441.3 177.4,441.5 178.5,441.6 179.6,441.7 180.7,441.8 181.8,441.9 182.9,442.0 183.9,442.1 185.0,442.2 186.1,442.3 187.2,442.4 188.3,442.5 189.4,442.6 190.5,442.6 191.6,442.7 192.7,442.8 193.7,442.9 194.8,442.9 195.9,443.0 197.0,443.1 198.1,443.1 199.2,443.2 200.3,443.2 201.4,443.3 202.5,443.4 203.6,443.4 204.6,443.5 205.7,443.5 206.8,443.6 207.9,443.6 209.0,443.7 210.1,443.7 211.2,443.7 212.3,443.8 213.4,443.8 214.4,443.9 215.5,443.9 216.6,443.9 217.7,444.0 218.8,444.0 219.9,444.0 221.0,444.1 222.1,444.1 223.2,444.1 224.3,444.2 225.3,444.2 226.4,444.2 227.5,444.2 228.6,444.3" fill="none" stroke="#ff0000" stroke-width="0.9" stroke-linejoin="round"/>
<polyline points="32.5,319.8 33.6,318.0 34.7,316.0 35.8,315.1 36.9,313.7 37.9,312.9 39.0,312.3 40.1,311.9 41.2,312.3 42.3,312.9 43.4,313.3 44.5,314.3 45.6,314.2 46.7,315.6 47.8,316.5 48.8,318.0 49.9,319.4 51.0,320.9 52.1,322.3 53.2,323.9 54.3,325.1 55.4,327.3 56.5,328.7 57.6,330.5 58.6,332.6 59.7,334.5 60.8,337.5 61.9,338.7 63.0,341.1 64.1,342.6 65.2,345.0 66.3,347.4 67.4,349.4 68.5,351.6 69.5,353.2 70.6,356.1 71.7,358.0 72.8,360.4 73.9,362.2 75.0,364.3 76.1,366.5 77.2,368.6 78.3,370.1 79.3,372.3 80.4,374.4 81.5,376.7 82.6,378.3 83.7,380.3 84.8,381.9 85.9,383.8 87.0,386.0 88.1,387.4 89.2,388.7 90.2,390.8 91.3,392.6 92.4,394.2 93.5,395.7 94.6,397.3 95.7,398.8 96.8,400.2 97.9,401.6 99.0,403.0 100.0,404.3 101.1,405.6 102.2,406.9 103.3,408.1 104.4,409.3 105.5,410.5 106.6,411.6 107.7,412.7 108.8,413.8 109.9,414.8 110.9,415.8 112.0,416.8 113.1,417.7 114.2,418.6 115.3,419.5 116.4,420.3 117.5,421.2 118.6,422.0 119.7,422.8 120.7,423.5 121.8,424.2 122.9,424.9 124.0,425.6 125.1,426.3 126.2,426.9 127.3,427.5 128.4,428.1 129.5,428.7 130.6,429.3 131.6,429.8 132.7,430.3 133.8,430.8 134.9,431.3 136.0,431.8 137.1,432.2 138.2,432.7 139.3,433.1 140.4,433.5 141.4,433.9 142.5,434.3 143.6,434.6 144.7,435.0 145.8,435.3 146.9,435.6 148.0,436.0 149.1,436.3 150.2,436.6 151.3,436.9 152.3,437.1 153.4,437.4 154.5,437.7 155.6,437.9 156.7,438.1 157.8,438.4 158.9,438.6 160.0,438.8 161.1,439.0 162.2,439.2 163.2,439.4 164.3,439.6 165.4,439.8 166.5,440.0 167.6,440.1 168.7,440.3 169.8,440.5 170.9,440.6 172.0,440.8 173.0,440.9 174.1,441.0 175.2,441.2 176.3,441.3 177.4,441.4 178.5,441.5 179.6,441.7 180.7,441.8 181.8,441.9 182.9,442.0 183.9,442.1 185.0,442.2 186.1,442.3 187.2,442.4 188.3,442.4 189.4,442.5 190.5,442.6 191.6,442.7 192.7,442.8 193.7,442.8 194.8,442.9 195.9,443.0 197.0,443.0 198.1,443.1 199.2,443.2 200.3,443.2 201.4,443.3 202.5,443.3 203.6,443.4 204.6,443.4 205.7,443.5 206.8,443.5 207.9,443.6 209.0,443.6 210.1,443.7 211.2,443.7 212.3,443.8 213.4,443.8 214.4,443.8 215.5,443.9 216.6,443.9 217.7,444.0 218.8,444.0 219.9,444.0 221.0,444.1 222.1,444.1 223.2,444.1 224.3,444.1 225.3,444.2 226.4,444.2 227.5,444.2 228.6,444.2" fill="none" stroke="#0000ff" stroke-width="0.9" stroke-linejoin="round"/>
<polyline points="32.5,312.9 33.6,310.3 34.7,308.5 35.8,307.4 36.9,305.9 37.9,305.1 39.0,305.1 40.1,305.1 41.2,304.8 42.3,305.0 43.4,305.7 44.5,307.0 45.6,307.6 46.7,308.0 47.8,309.6 48.8,310.2 49.9,311.6 51.0,313.7 52.1,314.9 53.2,316.4 54.3,318.2 55.4,320.4 56.5,322.2 57.6,324.1 58.6,325.7 59.7,328.0 60.8,330.0 61.9,332.5 63.0,334.6 64.1,336.7 65.2,339.2 66.3,341.7 67.4,343.6 68.5,346.1 69.5,348.4 70.6,350.8 71.7,353.2 72.8,355.0 73.9,357.6 75.0,359.7 76.1,361.8 77.2,364.2 78.3,365.8 79.3,367.8 80.4,370.5 81.5,372.4 82.6,374.3 83.7,376.3 84.8,378.2 85.9,380.0 87.0,382.2 88.1,383.6 89.2,386.3 90.2,387.8 91.3,389.2 92.4,390.9 93.5,392.5 94.6,394.1 95.7,395.7 96.8,397.2 97.9,398.7 99.0,400.2 100.0,401.6 101.1,403.0 102.2,404.3 103.3,405.6 104.4,406.9 105.5,408.1 106.6,409.3 107.7,410.5 108.8,411.6 109.9,412.7 110.9,413.8 112.0,414.8 113.1,415.8 114.2,416.8 115.3,417.7 116.4,418.6 117.5,419.5 118.6,420.3 119.7,421.2 120.7,422.0 121.8,422.7 122.9,423.5 124.0,424.2 125.1,424.9 126.2,425.6 127.3,426.2 128.4,426.9 129.5,427.5 130.6,428.1 131.6,428.7 132.7,429.2 133.8,429.8 134.9,430.3 136.0,430.8 137.1,431.3 138.2,431.7 139.3,432.2 140.4,432.6 141.4,433.0 142.5,433.4 143.6,433.8 144.7,434.2 145.8,434.6 146.9,434.9 148.0,435.3 149.1,435.6 150.2,435.9 151.3,436.2 152.3,436.5 153.4,436.8 154.5,437.1 155.6,437.4 156.7,437.6 157.8,437.9 158.9,438.1 160.0,438.3 161.1,438.6 162.2,438.8 163.2,439.0 164.3,439.2 165.4,439.4 166.5,439.6 167.6,439.7 168.7,439.9 169.8,440.1 170.9,440.3 172.0,440.4 173.0,440.6 174.1,440.7 175.2,440.9 176.3,441.0 177.4,441.1 178.5,441.3 179.6,441.4 180.7,441.5 181.8,441.6 182.9,441.7 183.9,441.8 185.0,441.9 186.1,442.0 187.2,442.1 188.3,442.2 189.4,442.3 190.5,442.4 191.6,442.5 192.7,442.6 193.7,442.6 194.8,442.7 195.9,442.8 197.0,442.9 198.1,442.9 199.2,443.0 200.3,443.1 201.4,443.1 202.5,443.2 203.6,443.3 204.6,443.3 205.7,443.4 206.8,443.4 207.9,443.5 209.0,443.5 210.1,443.6 211.2,443.6 212.3,443.7 213.4,443.7 214.4,443.7 215.5,443.8 216.6,443.8 217.7,443.9 218.8,443.9 219.9,443.9 221.0,444.0 222.1,444.0 223.2,444.0 224.3,444.1 225.3,444.1 226.4,444.1 227.5,444.1 228.6,444.2" fill="none" stroke="#000000" stroke-width="0.9" stroke-linejoin="round"/>
</g>
<line x1="32.5" y1="286.5" x2="32.5" y2="445.5" stroke="#3a3a3a" stroke-width="1.1"/>
<line x1="29" y1="445.1" x2="32.5" y2="445.1" stroke="#3a3a3a" stroke-width="1"/>
<line x1="29" y1="425.28" x2="32.5" y2="425.28" stroke="#3a3a3a" stroke-width="1"/>
<line x1="29" y1="405.45" x2="32.5" y2="405.45" stroke="#3a3a3a" stroke-width="1"/>
<line x1="29" y1="385.62" x2="32.5" y2="385.62" stroke="#3a3a3a" stroke-width="1"/>
<line x1="29" y1="365.8" x2="32.5" y2="365.8" stroke="#3a3a3a" stroke-width="1"/>
<line x1="29" y1="345.98" x2="32.5" y2="345.98" stroke="#3a3a3a" stroke-width="1"/>
<line x1="29" y1="326.15" x2="32.5" y2="326.15" stroke="#3a3a3a" stroke-width="1"/>
<line x1="29" y1="306.33" x2="32.5" y2="306.33" stroke="#3a3a3a" stroke-width="1"/>
<line x1="29" y1="286.5" x2="32.5" y2="286.5" stroke="#3a3a3a" stroke-width="1"/>
<line x1="30.3" y1="435.19" x2="32.5" y2="435.19" stroke="#3a3a3a" stroke-width="1"/>
<line x1="30.3" y1="415.36" x2="32.5" y2="415.36" stroke="#3a3a3a" stroke-width="1"/>
<line x1="30.3" y1="395.54" x2="32.5" y2="395.54" stroke="#3a3a3a" stroke-width="1"/>
<line x1="30.3" y1="375.71" x2="32.5" y2="375.71" stroke="#3a3a3a" stroke-width="1"/>
<line x1="30.3" y1="355.89" x2="32.5" y2="355.89" stroke="#3a3a3a" stroke-width="1"/>
<line x1="30.3" y1="336.06" x2="32.5" y2="336.06" stroke="#3a3a3a" stroke-width="1"/>
<line x1="30.3" y1="316.24" x2="32.5" y2="316.24" stroke="#3a3a3a" stroke-width="1"/>
<line x1="30.3" y1="296.41" x2="32.5" y2="296.41" stroke="#3a3a3a" stroke-width="1"/>
<text x="26.2" y="447.6" font-size="7" text-anchor="end" letter-spacing="0.3">0</text>
<text x="26.2" y="427.78" font-size="7" text-anchor="end" letter-spacing="0.3">5</text>
<text x="26.2" y="407.95" font-size="7" text-anchor="end" letter-spacing="0.3">10</text>
<text x="26.2" y="388.12" font-size="7" text-anchor="end" letter-spacing="0.3">15</text>
<text x="26.2" y="368.3" font-size="7" text-anchor="end" letter-spacing="0.3">20</text>
<text x="26.2" y="348.48" font-size="7" text-anchor="end" letter-spacing="0.3">25</text>
<text x="26.2" y="328.65" font-size="7" text-anchor="end" letter-spacing="0.3">30</text>
<text x="26.2" y="308.83" font-size="7" text-anchor="end" letter-spacing="0.3">35</text>
<text x="26.2" y="289" font-size="7" text-anchor="end" letter-spacing="0.3">40</text>
<line x1="32.5" y1="445.1" x2="228.6" y2="445.1" stroke="#3a3a3a" stroke-width="1.1"/>
<line x1="37.95" y1="445.1" x2="37.95" y2="448.6" stroke="#3a3a3a" stroke-width="1"/>
<line x1="65.19" y1="445.1" x2="65.19" y2="448.6" stroke="#3a3a3a" stroke-width="1"/>
<line x1="92.42" y1="445.1" x2="92.42" y2="448.6" stroke="#3a3a3a" stroke-width="1"/>
<line x1="119.66" y1="445.1" x2="119.66" y2="448.6" stroke="#3a3a3a" stroke-width="1"/>
<line x1="146.9" y1="445.1" x2="146.9" y2="448.6" stroke="#3a3a3a" stroke-width="1"/>
<line x1="174.13" y1="445.1" x2="174.13" y2="448.6" stroke="#3a3a3a" stroke-width="1"/>
<line x1="201.37" y1="445.1" x2="201.37" y2="448.6" stroke="#3a3a3a" stroke-width="1"/>
<line x1="228.61" y1="445.1" x2="228.61" y2="448.6" stroke="#3a3a3a" stroke-width="1"/>
<line x1="51.57" y1="445.1" x2="51.57" y2="447.3" stroke="#3a3a3a" stroke-width="1"/>
<line x1="78.8" y1="445.1" x2="78.8" y2="447.3" stroke="#3a3a3a" stroke-width="1"/>
<line x1="106.04" y1="445.1" x2="106.04" y2="447.3" stroke="#3a3a3a" stroke-width="1"/>
<line x1="133.28" y1="445.1" x2="133.28" y2="447.3" stroke="#3a3a3a" stroke-width="1"/>
<line x1="160.52" y1="445.1" x2="160.52" y2="447.3" stroke="#3a3a3a" stroke-width="1"/>
<line x1="187.75" y1="445.1" x2="187.75" y2="447.3" stroke="#3a3a3a" stroke-width="1"/>
<line x1="214.99" y1="445.1" x2="214.99" y2="447.3" stroke="#3a3a3a" stroke-width="1"/>
<text x="37.95" y="456.6" font-size="7" text-anchor="middle" letter-spacing="0.3">475</text>
<text x="65.19" y="456.6" font-size="7" text-anchor="middle" letter-spacing="0.3">500</text>
<text x="92.42" y="456.6" font-size="7" text-anchor="middle" letter-spacing="0.3">525</text>
<text x="119.66" y="456.6" font-size="7" text-anchor="middle" letter-spacing="0.3">550</text>
<text x="146.9" y="456.6" font-size="7" text-anchor="middle" letter-spacing="0.3">575</text>
<text x="174.13" y="456.6" font-size="7" text-anchor="middle" letter-spacing="0.3">600</text>
<text x="201.37" y="456.6" font-size="7" text-anchor="middle" letter-spacing="0.3">625</text>
<text x="228.61" y="456.6" font-size="7" text-anchor="middle" letter-spacing="0.3">650</text>
<text x="140.6" y="465.5" font-size="10.3" text-anchor="middle">λ / nm</text>
<text transform="translate(13.6,371.1) rotate(-90)" font-size="9.6" text-anchor="middle" textLength="114.8" lengthAdjust="spacingAndGlyphs">Rel. Fluo. Int. (a.u.) x 1000</text>
<line x1="132.1" y1="316" x2="132.1" y2="376.5" stroke="#1a1a1a" stroke-width="1.8"/>
<path d="M130.3,374 L133.9,374 L132.1,378.8 Z" fill="#1a1a1a"/>
<line x1="312" y1="5.8" x2="312" y2="183.6" stroke="#3a3a3a" stroke-width="1.1"/>
<line x1="308.5" y1="161.02" x2="312" y2="161.02" stroke="#3a3a3a" stroke-width="1"/>
<line x1="308.5" y1="116.67" x2="312" y2="116.67" stroke="#3a3a3a" stroke-width="1"/>
<line x1="308.5" y1="72.32" x2="312" y2="72.32" stroke="#3a3a3a" stroke-width="1"/>
<line x1="308.5" y1="27.97" x2="312" y2="27.97" stroke="#3a3a3a" stroke-width="1"/>
<line x1="309.8" y1="183.2" x2="312" y2="183.2" stroke="#3a3a3a" stroke-width="1"/>
<line x1="309.8" y1="138.85" x2="312" y2="138.85" stroke="#3a3a3a" stroke-width="1"/>
<line x1="309.8" y1="94.5" x2="312" y2="94.5" stroke="#3a3a3a" stroke-width="1"/>
<line x1="309.8" y1="50.15" x2="312" y2="50.15" stroke="#3a3a3a" stroke-width="1"/>
<line x1="309.8" y1="5.8" x2="312" y2="5.8" stroke="#3a3a3a" stroke-width="1"/>
<text x="306" y="163.92" font-size="8.6" text-anchor="end" letter-spacing="0">10</text>
<text x="306" y="119.57" font-size="8.6" text-anchor="end" letter-spacing="0">12</text>
<text x="306" y="75.22" font-size="8.6" text-anchor="end" letter-spacing="0">14</text>
<text x="306" y="30.87" font-size="8.6" text-anchor="end" letter-spacing="0">16</text>
<line x1="312" y1="183.2" x2="531.4" y2="183.2" stroke="#3a3a3a" stroke-width="1.1"/>
<line x1="315.5" y1="183.2" x2="315.5" y2="186.7" stroke="#3a3a3a" stroke-width="1"/>
<line x1="351.47" y1="183.2" x2="351.47" y2="186.7" stroke="#3a3a3a" stroke-width="1"/>
<line x1="387.44" y1="183.2" x2="387.44" y2="186.7" stroke="#3a3a3a" stroke-width="1"/>
<line x1="423.41" y1="183.2" x2="423.41" y2="186.7" stroke="#3a3a3a" stroke-width="1"/>
<line x1="459.38" y1="183.2" x2="459.38" y2="186.7" stroke="#3a3a3a" stroke-width="1"/>
<line x1="495.35" y1="183.2" x2="495.35" y2="186.7" stroke="#3a3a3a" stroke-width="1"/>
<line x1="531.32" y1="183.2" x2="531.32" y2="186.7" stroke="#3a3a3a" stroke-width="1"/>
<line x1="333.49" y1="183.2" x2="333.49" y2="185.4" stroke="#3a3a3a" stroke-width="1"/>
<line x1="369.45" y1="183.2" x2="369.45" y2="185.4" stroke="#3a3a3a" stroke-width="1"/>
<line x1="405.43" y1="183.2" x2="405.43" y2="185.4" stroke="#3a3a3a" stroke-width="1"/>
<line x1="441.39" y1="183.2" x2="441.39" y2="185.4" stroke="#3a3a3a" stroke-width="1"/>
<line x1="477.37" y1="183.2" x2="477.37" y2="185.4" stroke="#3a3a3a" stroke-width="1"/>
<line x1="513.34" y1="183.2" x2="513.34" y2="185.4" stroke="#3a3a3a" stroke-width="1"/>
<text x="315.5" y="195.9" font-size="8.2" text-anchor="middle">0.0</text>
<text x="351.07" y="197.8" font-size="8.2" text-anchor="middle" letter-spacing="0">1.0x<tspan dx="0.7">10</tspan><tspan font-size="4.8" dy="-3.6">-7</tspan></text>
<text x="387.04" y="197.8" font-size="8.2" text-anchor="middle" letter-spacing="0">2.0x<tspan dx="0.7">10</tspan><tspan font-size="4.8" dy="-3.6">-7</tspan></text>
<text x="423.01" y="197.8" font-size="8.2" text-anchor="middle" letter-spacing="0">3.0x<tspan dx="0.7">10</tspan><tspan font-size="4.8" dy="-3.6">-7</tspan></text>
<text x="458.98" y="197.8" font-size="8.2" text-anchor="middle" letter-spacing="0">4.0x<tspan dx="0.7">10</tspan><tspan font-size="4.8" dy="-3.6">-7</tspan></text>
<text x="494.95" y="197.8" font-size="8.2" text-anchor="middle" letter-spacing="0">5.0x<tspan dx="0.7">10</tspan><tspan font-size="4.8" dy="-3.6">-7</tspan></text>
<text x="530.92" y="197.8" font-size="8.2" text-anchor="middle" letter-spacing="0">6.0x<tspan dx="0.7">10</tspan><tspan font-size="4.8" dy="-3.6">-7</tspan></text>
<polyline points="315.3,33.5 317.0,36.7 318.7,39.8 320.3,42.9 322.0,45.9 323.7,48.9 325.4,51.8 327.0,54.6 328.7,57.3 330.4,60.0 332.1,62.6 333.7,65.2 335.4,67.7 337.1,70.1 338.8,72.5 340.4,74.9 342.1,77.2 343.8,79.4 345.5,81.6 347.2,83.7 348.8,85.8 350.5,87.8 352.2,89.8 353.9,91.8 355.5,93.7 357.2,95.5 358.9,97.4 360.6,99.1 362.2,100.9 363.9,102.6 365.6,104.2 367.3,105.8 368.9,107.4 370.6,109.0 372.3,110.5 374.0,112.0 375.7,113.4 377.3,114.8 379.0,116.2 380.7,117.6 382.4,118.9 384.0,120.2 385.7,121.4 387.4,122.7 389.1,123.9 390.7,125.0 392.4,126.2 394.1,127.3 395.8,128.4 397.4,129.5 399.1,130.5 400.8,131.6 402.5,132.6 404.2,133.5 405.8,134.5 407.5,135.4 409.2,136.3 410.9,137.2 412.5,138.1 414.2,139.0 415.9,139.8 417.6,140.6 419.2,141.4 420.9,142.2 422.6,142.9 424.3,143.7 425.9,144.4 427.6,145.1 429.3,145.8 431.0,146.5 432.7,147.2 434.3,147.8 436.0,148.4 437.7,149.1 439.4,149.7 441.0,150.3 442.7,150.8 444.4,151.4 446.1,152.0 447.7,152.5 449.4,153.0 451.1,153.5 452.8,154.0 454.4,154.5 456.1,155.0 457.8,155.5 459.5,155.9 461.2,156.4 462.8,156.8 464.5,157.3 466.2,157.7 467.9,158.1 469.5,158.5 471.2,158.9 472.9,159.3 474.6,159.6 476.2,160.0 477.9,160.4 479.6,160.7 481.3,161.0 482.9,161.4 484.6,161.7 486.3,162.0 488.0,162.3 489.7,162.6 491.3,162.9 493.0,163.2 494.7,163.5 496.4,163.8 498.0,164.1 499.7,164.3 501.4,164.6 503.1,164.8 504.7,165.1 506.4,165.3 508.1,165.6 509.8,165.8 511.4,166.0 513.1,166.2 514.8,166.5" fill="none" stroke="#ff3030" stroke-width="1.0" stroke-linejoin="round"/>
<rect x="313.3" y="24.8" width="4" height="4" fill="#000"/>
<rect x="314.0" y="26.0" width="4" height="4" fill="#000"/>
<rect x="314.5" y="30.3" width="4" height="4" fill="#000"/>
<rect x="316.2" y="39.9" width="4" height="4" fill="#000"/>
<rect x="319.1" y="49.1" width="4" height="4" fill="#000"/>
<rect x="324.8" y="62.4" width="4" height="4" fill="#000"/>
<rect x="335.7" y="76.5" width="4" height="4" fill="#000"/>
<rect x="356.9" y="86.7" width="4" height="4" fill="#000"/>
<rect x="376.5" y="109.5" width="4" height="4" fill="#000"/>
<rect x="394.9" y="130.4" width="4" height="4" fill="#000"/>
<rect x="429.3" y="141.3" width="4" height="4" fill="#000"/>
<rect x="460.0" y="148.4" width="4" height="4" fill="#000"/>
<rect x="513.1" y="170.2" width="4" height="4" fill="#000"/>
<text x="391.6" y="215.7" font-size="10.3" text-anchor="start"><tspan font-style="italic">c</tspan> (CuCl<tspan font-size="6" dx="0.8" dy="3.3">2</tspan><tspan dx="0.6" dy="-3.3">) / M</tspan></text>
<text transform="translate(288.9,102.6) rotate(-90)" font-size="10.4" text-anchor="middle" textLength="169.6" lengthAdjust="spacingAndGlyphs">Rel. Fluo. Int. (a.u.; 475 nm) x 1000</text>
<rect x="389.9" y="40.4" width="143.0" height="47.5" fill="#fff" stroke="#111" stroke-width="1.5"/>
<text x="399.2" y="59.0" font-size="12.4" font-weight="bold" style="fill:#ff0a14" textLength="108.8" lengthAdjust="spacingAndGlyphs">2:1; logβ = 17 ± 0.6</text>
<text x="399.2" y="78.8" font-size="12.4" font-weight="bold" style="fill:#00a84f" textLength="112.5" lengthAdjust="spacingAndGlyphs">1:1; logβ = 7.2 ± 0.4</text>
<line x1="302.1" y1="255.3" x2="302.1" y2="431.4" stroke="#3a3a3a" stroke-width="1.1"/>
<line x1="298.6" y1="416.36" x2="302.1" y2="416.36" stroke="#3a3a3a" stroke-width="1"/>
<line x1="298.6" y1="387.07" x2="302.1" y2="387.07" stroke="#3a3a3a" stroke-width="1"/>
<line x1="298.6" y1="357.79" x2="302.1" y2="357.79" stroke="#3a3a3a" stroke-width="1"/>
<line x1="298.6" y1="328.5" x2="302.1" y2="328.5" stroke="#3a3a3a" stroke-width="1"/>
<line x1="298.6" y1="299.22" x2="302.1" y2="299.22" stroke="#3a3a3a" stroke-width="1"/>
<line x1="298.6" y1="269.93" x2="302.1" y2="269.93" stroke="#3a3a3a" stroke-width="1"/>
<line x1="299.9" y1="431" x2="302.1" y2="431" stroke="#3a3a3a" stroke-width="1"/>
<line x1="299.9" y1="401.71" x2="302.1" y2="401.71" stroke="#3a3a3a" stroke-width="1"/>
<line x1="299.9" y1="372.43" x2="302.1" y2="372.43" stroke="#3a3a3a" stroke-width="1"/>
<line x1="299.9" y1="343.14" x2="302.1" y2="343.14" stroke="#3a3a3a" stroke-width="1"/>
<line x1="299.9" y1="313.86" x2="302.1" y2="313.86" stroke="#3a3a3a" stroke-width="1"/>
<line x1="299.9" y1="284.57" x2="302.1" y2="284.57" stroke="#3a3a3a" stroke-width="1"/>
<line x1="299.9" y1="255.29" x2="302.1" y2="255.29" stroke="#3a3a3a" stroke-width="1"/>
<text x="295.6" y="419.36" font-size="8.6" text-anchor="end" letter-spacing="0">10</text>
<text x="295.6" y="390.07" font-size="8.6" text-anchor="end" letter-spacing="0">15</text>
<text x="295.6" y="360.79" font-size="8.6" text-anchor="end" letter-spacing="0">20</text>
<text x="295.6" y="331.5" font-size="8.6" text-anchor="end" letter-spacing="0">25</text>
<text x="295.6" y="302.22" font-size="8.6" text-anchor="end" letter-spacing="0">30</text>
<text x="295.6" y="272.93" font-size="8.6" text-anchor="end" letter-spacing="0">35</text>
<line x1="302.1" y1="431" x2="540.5" y2="431" stroke="#3a3a3a" stroke-width="1.1"/>
<line x1="305.5" y1="431" x2="305.5" y2="434.5" stroke="#3a3a3a" stroke-width="1"/>
<line x1="342.2" y1="431" x2="342.2" y2="434.5" stroke="#3a3a3a" stroke-width="1"/>
<line x1="378.9" y1="431" x2="378.9" y2="434.5" stroke="#3a3a3a" stroke-width="1"/>
<line x1="415.6" y1="431" x2="415.6" y2="434.5" stroke="#3a3a3a" stroke-width="1"/>
<line x1="452.3" y1="431" x2="452.3" y2="434.5" stroke="#3a3a3a" stroke-width="1"/>
<line x1="489" y1="431" x2="489" y2="434.5" stroke="#3a3a3a" stroke-width="1"/>
<line x1="525.7" y1="431" x2="525.7" y2="434.5" stroke="#3a3a3a" stroke-width="1"/>
<line x1="323.85" y1="431" x2="323.85" y2="433.2" stroke="#3a3a3a" stroke-width="1"/>
<line x1="360.55" y1="431" x2="360.55" y2="433.2" stroke="#3a3a3a" stroke-width="1"/>
<line x1="397.25" y1="431" x2="397.25" y2="433.2" stroke="#3a3a3a" stroke-width="1"/>
<line x1="433.95" y1="431" x2="433.95" y2="433.2" stroke="#3a3a3a" stroke-width="1"/>
<line x1="470.65" y1="431" x2="470.65" y2="433.2" stroke="#3a3a3a" stroke-width="1"/>
<line x1="507.35" y1="431" x2="507.35" y2="433.2" stroke="#3a3a3a" stroke-width="1"/>
<text x="305.5" y="444.0" font-size="8.2" text-anchor="middle">0.0</text>
<text x="341.8" y="445.7" font-size="8.2" text-anchor="middle" letter-spacing="0">5.0x<tspan dx="0.7">10</tspan><tspan font-size="4.8" dy="-3.6">-8</tspan></text>
<text x="378.5" y="445.7" font-size="8.2" text-anchor="middle" letter-spacing="0">1.0x<tspan dx="0.7">10</tspan><tspan font-size="4.8" dy="-3.6">-7</tspan></text>
<text x="415.2" y="445.7" font-size="8.2" text-anchor="middle" letter-spacing="0">1.5x<tspan dx="0.7">10</tspan><tspan font-size="4.8" dy="-3.6">-7</tspan></text>
<text x="451.9" y="445.7" font-size="8.2" text-anchor="middle" letter-spacing="0">2.0x<tspan dx="0.7">10</tspan><tspan font-size="4.8" dy="-3.6">-7</tspan></text>
<text x="488.6" y="445.7" font-size="8.2" text-anchor="middle" letter-spacing="0">2.5x<tspan dx="0.7">10</tspan><tspan font-size="4.8" dy="-3.6">-7</tspan></text>
<text x="525.3" y="445.7" font-size="8.2" text-anchor="middle" letter-spacing="0">3.0x<tspan dx="0.7">10</tspan><tspan font-size="4.8" dy="-3.6">-7</tspan></text>
<text x="394.2" y="459.6" font-size="10.3"><tspan font-style="italic">c</tspan>(CuCl<tspan font-size="6" dx="0.8" dy="3.3">2</tspan><tspan dx="0.6" dy="-3.3">) / M</tspan></text>
<text transform="translate(278.6,349.9) rotate(-90)" font-size="10.6" text-anchor="middle" textLength="173.8" lengthAdjust="spacingAndGlyphs">Rel. Fluo. Int. (a.u.; 475 nm) x 1000</text>
<polyline points="352.6,302.7 354.1,304.9 355.7,307.1 357.2,309.3 358.7,311.5 360.2,313.6 361.8,315.7 363.3,317.8 364.8,319.8 366.3,321.8 367.9,323.7 369.4,325.7 370.9,327.6 372.4,329.4 374.0,331.3 375.5,333.1 377.0,334.9 378.5,336.6 380.1,338.3 381.6,340.0 383.1,341.7 384.6,343.3 386.2,345.0 387.7,346.6 389.2,348.1 390.8,349.7 392.3,351.2 393.8,352.7 395.3,354.2 396.9,355.6 398.4,357.0 399.9,358.4 401.4,359.8 403.0,361.2 404.5,362.5 406.0,363.8 407.5,365.1 409.1,366.4 410.6,367.7 412.1,368.9 413.6,370.1 415.2,371.3 416.7,372.5 418.2,373.6 419.7,374.8 421.3,375.9 422.8,377.0 424.3,378.1 425.9,379.2 427.4,380.2 428.9,381.3 430.4,382.3 432.0,383.3 433.5,384.3 435.0,385.2 436.5,386.2 438.1,387.1 439.6,388.1 441.1,389.0 442.6,389.9 444.2,390.8 445.7,391.6 447.2,392.5 448.7,393.3 450.3,394.2 451.8,395.0 453.3,395.8 454.8,396.6 456.4,397.3 457.9,398.1 459.4,398.9 460.9,399.6 462.5,400.3 464.0,401.1 465.5,401.8 467.1,402.5 468.6,403.1 470.1,403.8 471.6,404.5 473.2,405.1 474.7,405.8 476.2,406.4 477.7,407.0 479.3,407.7 480.8,408.3 482.3,408.8 483.8,409.4 485.4,410.0 486.9,410.6 488.4,411.1 489.9,411.7 491.5,412.2 493.0,412.7 494.5,413.3 496.0,413.8 497.6,414.3 499.1,414.8 500.6,415.3 502.2,415.8 503.7,416.2 505.2,416.7 506.7,417.2 508.3,417.6 509.8,418.1 511.3,418.5 512.8,418.9 514.4,419.4 515.9,419.8 517.4,420.2 518.9,420.6 520.5,421.0 522.0,421.4 523.5,421.8 525.0,422.2 526.6,422.5 528.1,422.9 529.6,423.3 531.1,423.6 532.7,424.0 534.2,424.3" fill="none" stroke="#ff3030" stroke-width="1.0" stroke-linejoin="round"/>
<rect x="303.1" y="268.1" width="4" height="4" fill="#000"/>
<rect x="316.9" y="286.5" width="4" height="4" fill="#000"/>
<rect x="328.1" y="294.2" width="4" height="4" fill="#000"/>
<rect x="339.5" y="299.3" width="4" height="4" fill="#000"/>
<rect x="350.3" y="304.7" width="4" height="4" fill="#000"/>
<rect x="361.3" y="318.3" width="4" height="4" fill="#000"/>
<rect x="372.0" y="326.7" width="4" height="4" fill="#000"/>
<rect x="382.7" y="335.3" width="4" height="4" fill="#000"/>
<rect x="392.9" y="348.9" width="4" height="4" fill="#000"/>
<rect x="403.5" y="358.0" width="4" height="4" fill="#000"/>
<rect x="413.5" y="371.1" width="4" height="4" fill="#000"/>
<rect x="423.5" y="380.7" width="4" height="4" fill="#000"/>
<rect x="433.5" y="385.3" width="4" height="4" fill="#000"/>
<rect x="443.1" y="396.7" width="4" height="4" fill="#000"/>
<rect x="462.0" y="401.6" width="4" height="4" fill="#000"/>
<rect x="498.0" y="410.7" width="4" height="4" fill="#000"/>
<rect x="532.4" y="419.0" width="4" height="4" fill="#000"/>
<rect x="303.8" y="277.8" width="3.2" height="3.2" fill="#000"/>
<rect x="304.0" y="279.2" width="3.2" height="3.2" fill="#000"/>
<rect x="304.4" y="280.6" width="3.2" height="3.2" fill="#000"/>
<rect x="305.0" y="281.9" width="3.2" height="3.2" fill="#000"/>
<rect x="305.8" y="283.0" width="3.2" height="3.2" fill="#000"/>
<rect x="306.8" y="283.9" width="3.2" height="3.2" fill="#000"/>
<rect x="308.0" y="284.5" width="3.2" height="3.2" fill="#000"/>
<rect x="309.3" y="284.9" width="3.2" height="3.2" fill="#000"/>
<rect x="310.7" y="285.2" width="3.2" height="3.2" fill="#000"/>
<rect x="312.0" y="285.4" width="3.2" height="3.2" fill="#000"/>
<path d="M305.5,271.5 C305.7,276 305.9,281 307.5,283.8 C309.3,286.4 311.5,287.1 313.8,287.3" fill="none" stroke="#ff2020" stroke-width="0.9"/>
<rect x="341.6" y="296.4" width="199.6" height="134.2" fill="none" stroke="#00b050" stroke-width="2.6"/>
<rect x="380.8" y="309.0" width="143.2" height="26.8" fill="#fff" stroke="#111" stroke-width="1.5"/>
<text x="390.4" y="326.6" font-size="12.4" font-weight="bold" style="fill:#00a84f" textLength="119.2" lengthAdjust="spacingAndGlyphs">1:1; logβ = 7.5 ± 0.09</text>
<path d="M302.2,267.6 L310.8,267.6 L310.8,260.2 L308.3,260.2 L314.0,253.6 L319.9,260.2 L317.2,260.2 L317.2,267.6 L325.7,267.6 L325.7,291.1 L302.2,291.1 Z" fill="none" stroke="#ff0000" stroke-width="2.3" stroke-linejoin="miter"/>
<rect x="301.6" y="228.4" width="129.2" height="26.8" fill="#fff" stroke="#111" stroke-width="1.5"/>
<text x="311.4" y="246.8" font-size="12.4" font-weight="bold" style="fill:#ff0a14" textLength="108.3" lengthAdjust="spacingAndGlyphs">2:1; logβ = 17 ± 0.7</text>
</svg>
</body></html>
